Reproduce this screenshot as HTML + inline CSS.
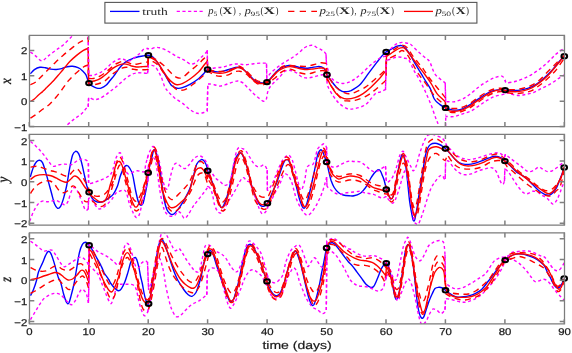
<!DOCTYPE html>
<html><head><meta charset="utf-8"><title>Ensemble quantiles</title>
<style>html,body{margin:0;padding:0;background:#fff;overflow:hidden}svg{display:block}</style>
</head><body>
<svg width="572" height="353" viewBox="0 0 572 353" text-rendering="geometricPrecision">
<defs><clipPath id="c0"><rect x="29.5" y="35.4" width="535.0" height="91.1"/></clipPath><clipPath id="c1"><rect x="29.5" y="134.3" width="535.0" height="90.79999999999998"/></clipPath><clipPath id="c2"><rect x="29.5" y="232.8" width="535.0" height="91.0"/></clipPath></defs>
<rect width="572" height="353" fill="#fff"/>
<g clip-path="url(#c0)" fill="none" stroke-width="1.4">
<path stroke="#0000ff" d="M30.4 73.8C31.1 73.1 32.8 70.8 34.4 69.7C36 68.6 38.1 67.6 39.9 67.3C41.7 67 43.5 67.4 45.3 67.7C47.1 68 49 68.8 50.8 69.1C52.6 69.4 54.4 69.6 56.2 69.5C58 69.4 59.9 69.1 61.7 68.6C63.5 68.1 65.3 67.1 67.1 66.7C68.9 66.3 70.7 66.1 72.5 66.3C74.3 66.5 76.4 67 78 67.7C79.6 68.4 80.8 69.2 82.1 70.4C83.4 71.7 84.9 73.1 86.1 75.2C87.2 77.3 87.9 81.3 89 83.1C90.1 84.9 91.2 85.4 92.5 86.2C93.8 87 95.4 87.8 96.8 88.1C98.2 88.4 99.5 88.6 101 88.1C102.5 87.6 104.5 86.6 106 85.3C107.5 84 108.7 82.2 110.1 80.5C111.5 78.8 113 77.1 114.3 75.4C115.6 73.7 116.6 71.9 117.7 70.3C118.8 68.7 119.9 67.3 121.1 66C122.3 64.7 123.5 63.6 124.8 62.6C126.1 61.6 127.4 60.9 128.9 60.2C130.4 59.5 132 58.8 133.6 58.2C135.2 57.6 136.7 57.2 138.4 56.8C140.1 56.4 142.1 56 143.8 55.8C145.5 55.5 146.9 55.1 148.4 55.3C149.9 55.5 151.4 55.8 152.9 57C154.4 58.2 156 60.6 157.5 62.7C159 64.8 160.5 67 162 69.5C163.5 72 164.9 74.7 166.5 77.4C168.1 80.1 169.9 83.7 171.6 85.5C173.3 87.3 175.1 87.8 176.9 88.2C178.7 88.6 180.1 88.4 182.3 87.7C184.6 87 187.7 85.7 190.4 84.2C193.1 82.7 196.2 80.6 198.5 78.8C200.8 77 202.4 75 203.9 73.4C205.4 71.9 206.1 69.9 207.6 69.5C209.1 69.1 211 70.8 212.8 71.2C214.6 71.6 216.5 72 218.4 71.9C220.3 71.9 222.2 71.4 224.1 70.9C226 70.4 227.9 69.7 229.8 69.1C231.7 68.5 233.8 67.7 235.4 67.4C237.1 67.1 238.3 67 239.7 67.4C241.1 67.8 242.5 68.7 243.9 69.8C245.3 70.9 246.8 72.6 248.2 74C249.6 75.4 251 77 252.4 78.3C253.8 79.6 255 80.8 256.7 81.6C258.4 82.4 260.7 82.9 262.4 83C264.1 83.1 265.4 83.1 267 82.1C268.6 81.1 270.1 78.7 271.9 76.8C273.7 74.9 275.7 72.2 277.6 70.5C279.5 68.8 281.4 67.7 283.3 66.9C285.2 66.1 287 65.6 288.9 65.5C290.8 65.4 292.7 65.9 294.6 66.2C296.5 66.5 298.4 67.2 300.3 67.6C302.2 67.9 304 68.3 305.9 68.3C307.8 68.3 309.7 67.9 311.6 67.6C313.5 67.3 315.7 66.7 317.3 66.6C318.9 66.5 320.2 66.4 321.5 66.9C322.8 67.4 324.2 68.5 325.1 69.8C326 71.1 326.1 73.1 327 74.8C327.9 76.5 329.3 78.2 330.8 80.2C332.3 82.2 334.4 85.1 336.2 86.9C338 88.7 340 90.4 341.6 91.2C343.2 92 344.4 91.8 346 91.7C347.6 91.6 348.6 91.8 351 90.6C353.4 89.3 357.5 87.1 360.4 84.2C363.3 81.3 365.8 77 368.5 73.4C371.2 69.8 374.4 65.5 376.6 62.6C378.9 59.7 380.4 57.7 382 55.9C383.6 54.1 384.5 53.1 386.2 51.9C387.9 50.7 390.3 49.7 392.1 48.7C393.9 47.8 395.6 46.7 397.2 46.2C398.8 45.7 400.1 45.3 401.5 45.6C402.9 45.9 404.1 46.5 405.7 48.2C407.2 49.9 409.1 53.2 410.8 56C412.5 58.8 414.2 62 415.9 64.9C417.6 67.8 419.3 70.6 421 73.4C422.7 76.2 424.5 79.3 426.1 81.9C427.7 84.5 429.1 86.2 430.5 89C431.9 91.8 432.8 96.4 434.3 99C435.8 101.6 437.8 102.9 439.7 104.4C441.6 105.9 443.6 107 445.6 107.9C447.6 108.8 449.5 109.5 451.9 109.8C454.3 110.1 457.3 110.5 460 109.8C462.7 109.1 465.4 107.4 468.1 105.8C470.8 104.2 473.5 102.2 476.2 100.4C478.9 98.6 481.6 96.6 484.3 95C487 93.4 489.7 91.8 492.4 90.9C495.1 90 498.4 89.7 500.5 89.6C502.6 89.5 503.1 90 505.1 90.1C507.1 90.2 509.7 90.4 512.3 90.4C514.8 90.4 517.7 90.5 520.4 90.1C523.1 89.7 525.8 89.2 528.5 88.2C531.2 87.2 533.9 86 536.6 84.2C539.3 82.4 542 80 544.7 77.5C547.4 75 550.3 72.1 552.8 69.4C555.3 66.7 557.6 63.5 559.5 61.3C561.4 59.1 563.5 57.1 564.3 56.2"/>
<path stroke="#ff00ff" stroke-dasharray="3 2.6" d="M30.4 52C31.3 52.7 33.9 54.6 35.8 56.1C37.7 57.6 39.9 60.9 41.9 60.9C43.9 60.9 45.6 57.9 48 56.1C50.4 54.3 53.5 52 56.2 50C58.9 48 61.7 46.3 64.4 43.9C67.1 41.5 70.6 37.9 72.5 35.7C74.4 33.6 73.4 31.8 76 31C78.6 30.2 86.2 31 88.2 31L88.6 75.5C89.4 75.5 92.2 75.6 93.5 75.4C94.8 75.2 95.4 74.5 96.5 74.1C97.6 73.7 98.8 73.4 99.9 72.8C101 72.2 102 71.6 103.3 70.7C104.6 69.8 106.2 68.4 107.5 67.3C108.8 66.2 109.6 65 110.9 63.9C112.2 62.8 113.6 61.8 115.2 60.9C116.8 60 118.9 59.1 120.3 58.8C121.7 58.5 122.3 58.9 123.4 59.2C124.5 59.5 125.7 60.6 127 60.8C128.3 61 129.4 61.1 131 60.3C132.6 59.5 134.7 57.5 136.3 56.2C137.9 55 139.1 54 140.4 52.8C141.7 51.6 142.8 49.8 143.9 49.1C145.1 48.4 146.7 48.6 147.3 48.5L148.4 48.8C148.8 48.8 149.6 49.3 150.7 49.1C151.8 48.9 153.7 47.7 155.2 47.5C156.7 47.3 158 47.4 159.7 47.8C161.4 48.2 163.5 48.9 165.4 49.8C167.3 50.7 169.2 51.9 171.1 53C173 54.1 175.2 55.6 176.8 56.5C178.5 57.4 179.6 57.8 181 58.5C182.4 59.2 183.4 59.6 185 60.5C186.6 61.4 188.6 63.6 190.4 64C192.2 64.3 194 63.7 195.8 62.6C197.6 61.5 199.4 59.1 201.2 57.3C203 55.5 205.6 53.1 206.6 51.9C207.6 50.7 207.1 50.3 207.2 50L207.6 68.4C208.2 68.4 209.7 68.5 211.3 68.4C212.9 68.3 215.1 67.9 217 67.7C218.9 67.5 220.8 67.4 222.7 67C224.6 66.6 226.4 66 228.3 65.5C230.2 65 232.1 64.3 234 64.1C235.9 63.9 237.8 64 239.7 64.1C241.6 64.2 243.4 64.8 245.3 64.8C247.2 64.8 249.1 64.3 251 64.1C252.9 63.9 254.8 63.6 256.7 63.4C258.6 63.2 260.9 63.1 262.4 63.1C263.9 63.1 265.2 63.2 265.9 63.2C266.6 63.2 266.4 63.4 266.5 63.4L266.8 78.3C267.4 77.5 268.9 75 270.5 73.3C272.1 71.6 274.3 69.8 276.2 68.3C278.1 66.8 279.9 65.4 281.8 64.1C283.7 62.8 285.6 61.7 287.5 60.5C289.4 59.3 291.3 58.3 293.2 57C295.1 55.7 296.9 54.3 298.8 52.8C300.7 51.3 302.8 49 304.5 47.8C306.2 46.6 307.4 46.1 308.8 45.7C310.2 45.3 311.6 45 313 45.4C314.4 45.8 315.9 47 317.3 47.8C318.7 48.5 320.3 49.2 321.5 49.9C322.7 50.6 323.6 51.3 324.4 52C325.1 52.7 325.7 53.8 326 54.2L326.5 64C326.8 65 327.2 67.5 328.1 70C329 72.5 330.3 76.6 332.1 78.8C333.9 81 336.4 82.2 338.9 82.9C341.4 83.6 344.2 83.6 346.9 82.9C349.6 82.2 352.3 80.6 355 78.8C357.7 77 360.4 74.5 363.1 72.1C365.8 69.7 368.5 66.8 371.2 64.5C373.9 62.2 376.9 59.9 379.3 58.5C381.7 57.1 384.7 56.4 385.8 56L386.3 55.5C387.3 54.2 390.3 49.5 392.1 47.5C393.9 45.5 395.6 44.5 397.2 43.6C398.8 42.8 400.3 42.5 402 42.4C403.7 42.3 405.8 42.9 407.3 43.2C408.8 43.6 409.5 43.5 410.8 44.5C412.1 45.5 413.7 47.4 415.4 49C417.1 50.6 419 52.4 420.8 54C422.6 55.6 424.7 57.2 426.2 58.5C427.7 59.8 428.4 59.4 429.8 61.9C431.2 64.4 432.8 70.6 434.6 73.5C436.4 76.4 438.8 77.8 440.4 79.2C442 80.6 443.4 81.5 444.2 82.1C445 82.7 445 82.8 445.2 83L445.7 101.7C446.1 101.7 446.4 101.7 447.9 101.7C449.4 101.7 452.1 102.2 454.6 101.7C457.1 101.2 460 100.3 462.7 99C465.4 97.7 468.1 95.6 470.8 93.6C473.5 91.6 476.2 88.9 478.9 86.9C481.6 84.9 484.3 83.1 487 81.5C489.7 79.9 492.6 78.4 495.1 77.5C497.6 76.6 500.3 75.9 501.8 76.1C503.3 76.3 503.8 78.1 504.3 78.8C504.8 79.5 504.9 79.8 505 80L505.5 81.5C505.7 81.7 505.3 82.9 506.9 82.9C508.5 82.9 512.3 82.2 515 81.5C517.7 80.8 520.4 79.9 523.1 78.8C525.8 77.7 528.5 76.4 531.2 74.8C533.9 73.2 536.6 71.4 539.3 69.4C542 67.4 544.7 65.1 547.4 62.6C550.1 60.1 553 56.8 555.5 54.6C558 52.5 560.7 50.7 562.2 49.7C563.7 48.7 563.9 48.7 564.3 48.5"/>
<path stroke="#ff00ff" stroke-dasharray="3 2.6" d="M63.5 128.5C63.9 128.1 64.4 127.5 65.7 126.3C67 125.1 69.4 123 71.2 121.5C73 120 74.8 118.8 76.6 117.4C78.4 116 80.5 114.8 82.1 113.3C83.7 111.8 85.1 109.6 86.1 108.6C87.1 107.5 87.8 107.3 88.2 107L88.6 97.6C88.8 97.6 88.8 97.3 89.7 97.6C90.6 97.9 92.5 99.3 93.9 99.5C95.3 99.7 96.6 99.6 98.2 99C99.8 98.4 101.9 97.3 103.8 96.1C105.7 94.9 107.6 93.3 109.5 91.9C111.4 90.5 113.3 89.1 115.2 87.6C117.1 86.1 118.9 84.3 120.8 82.7C122.7 81.1 124.6 79.1 126.5 77.7C128.4 76.3 130.3 75 132.2 74.2C134.1 73.4 135.9 73 137.8 72.8C139.7 72.6 141.9 72.9 143.5 73C145.1 73.1 146.9 73.4 147.6 73.5L148.4 64C148.8 64.2 149.4 64.5 150.6 65C151.8 65.5 153.7 65.2 155.4 67C157.1 68.8 159.2 72.8 160.8 76.1C162.4 79.4 163.5 84.2 164.8 86.9C166.2 89.6 167.3 90.5 168.9 92.3C170.5 94.1 172.1 95.9 174.3 97.7C176.5 99.5 179.6 101.1 182.3 103.1C185 105.1 187.9 108.1 190.4 109.8C192.9 111.5 194.9 112.8 197.2 113.3C199.4 113.8 202.2 112.9 203.9 112.5C205.6 112.1 206.6 111.3 207.2 111.1L207.8 84C208.2 84 208.8 83.9 209.9 84C211 84.1 212.5 84.4 214.2 84.7C215.8 85 217.9 86.1 219.8 86.1C221.7 86.1 223.6 85.3 225.5 84.7C227.4 84.1 229.3 83.2 231.2 82.6C233.1 82 235.4 81.3 236.8 81.1C238.2 80.9 238.5 81.1 239.5 81.4C240.5 81.7 241.7 82 242.9 82.9C244.1 83.8 245.6 85.6 246.9 86.9C248.2 88.2 249.5 89.5 250.8 90.8C252.1 92.1 253.3 93.5 254.8 94.8C256.3 96.1 258.3 97.7 259.8 98.8C261.3 99.9 262.6 101.2 263.7 101.3C264.8 101.4 265.6 100.7 266.2 99.5C266.8 98.3 267 94.9 267.2 94L267.2 94C267.4 93.2 267.9 90.8 268.7 89.3C269.4 87.8 270.5 86.3 271.7 84.9C272.9 83.5 274.3 82.2 275.6 80.9C276.9 79.6 278.1 78.8 279.6 77.2C281.1 75.6 282.9 72.6 284.7 71.5C286.5 70.4 288.4 70.3 290.3 70.5C292.2 70.7 294.1 71.5 296 72.6C297.9 73.6 299.8 75.9 301.7 76.8C303.6 77.7 305.4 78 307.3 78C309.2 78 311.1 77.5 313 77.1C314.9 76.7 317.1 75.8 318.7 75.4C320.3 75 321.6 74.7 322.9 74.7C324.2 74.7 325.9 75.4 326.5 75.5L326.8 80C327 81.2 327 84.2 328.1 86.9C329.2 89.6 331.7 93.6 333.5 96.3C335.3 99 336.7 101.1 338.9 103.1C341.1 105.1 344.2 107.6 346.9 108.5C349.6 109.4 351.9 109.2 355 108.5C358.1 107.8 362.5 106.8 365.8 104.4C369.1 102 372.6 96.1 375 94C377.4 91.9 378.4 92.8 380.2 92C381.9 91.2 384.6 89.9 385.5 89.5L386.3 59.8C386.7 59.8 387.4 60.1 388.7 59.8C389.9 59.5 392.1 58.3 393.8 57.8C395.5 57.3 397.2 57 398.9 57C400.6 57 402.4 57.5 404 58C405.6 58.5 407.1 58.1 408.7 60C410.3 61.9 411.8 66.4 413.5 69.6C415.2 72.8 417.3 75.7 419.2 79.2C421.1 82.7 423.1 86.6 425 90.8C426.9 95 429 99.7 430.8 104.2C432.6 108.7 434.3 114.2 435.6 117.7C436.9 121.2 437.7 122.5 438.5 125.4C439.3 128.3 440.2 133.4 440.5 135L445.6 135C445.6 131.9 445.6 119.6 445.8 116.5C446 113.4 445.1 116.5 446.6 116.5C448.1 116.5 451.9 117 454.6 116.5C457.3 116 460 114.7 462.7 113.8C465.4 112.9 468.1 112.4 470.8 111.1C473.5 109.8 476.2 107.6 478.9 105.8C481.6 104 484.3 102 487 100.4C489.7 98.8 492.4 97.3 495.1 96.3C497.8 95.3 501.4 95 503.1 94.4C504.8 93.9 504.8 93.2 505.1 93L505.5 92.3C506.2 92.5 507.6 93.1 509.6 93.6C511.6 94.1 515 95.4 517.7 95.5C520.4 95.6 523.1 94.9 525.8 94.4C528.5 93.9 531.2 93.3 533.9 92.3C536.6 91.3 539.3 89.5 542 88.2C544.7 86.9 547.4 85.8 550.1 84.2C552.8 82.6 556.1 80.2 558.1 78.8C560.1 77.4 561.2 76.7 562.2 76.1C563.2 75.5 563.9 75.2 564.3 75"/>
<path stroke="#ff0000" stroke-dasharray="6 4.5" d="M30.4 84.8C31.3 84.3 34.2 83.2 35.8 82C37.4 80.8 38.1 79.7 39.9 77.9C41.7 76.1 44.2 73.6 46.7 71.1C49.2 68.6 52.2 65.5 54.9 62.9C57.6 60.3 60.3 57.8 63 55.4C65.7 53 68.5 50.8 71.2 48.6C73.9 46.5 76.8 44.1 79.3 42.5C81.8 40.9 84.6 39.9 86.1 39.1C87.6 38.4 87.8 38.2 88.2 38L88.6 78.5C89.2 78.5 90.8 78.7 92 78.6C93.2 78.5 94.8 78.3 96.1 77.9C97.4 77.5 98.4 77.1 99.9 76.2C101.4 75.3 103.5 73.9 105 72.8C106.5 71.7 107.8 70.6 109.2 69.4C110.6 68.2 112.2 66.6 113.5 65.6C114.8 64.6 115.5 64.2 116.9 63.5C118.3 62.8 120.6 61.7 122 61.4C123.4 61.1 124.4 61.6 125.4 61.8C126.4 62 126.8 62.1 128 62.5C129.2 62.9 131.3 64 132.9 64.3C134.5 64.5 135.6 64.3 137.7 64C139.8 63.7 143.5 62.6 145.2 62.3C146.9 62 147.4 62 147.8 62L148.4 56C148.7 56.1 148.6 55.8 150 56.5C151.4 57.2 154.4 58.5 156.7 60C158.9 61.5 161 63.1 163.5 65.3C166 67.5 169.4 71.4 171.6 73.4C173.8 75.4 175.1 76.8 176.9 77.5C178.7 78.2 180.1 78.6 182.3 77.5C184.6 76.4 187.7 73 190.4 70.7C193.1 68.5 196.2 66 198.5 64C200.8 62 202.5 59.7 203.9 58.6C205.3 57.5 206.6 57.5 207.2 57.3L207.8 69.5C209 69.8 212.8 70.7 215 71C217.2 71.3 218.8 71.6 221 71.5C223.2 71.4 225.8 71 228 70.5C230.2 70 232.3 69.2 234 68.5C235.7 67.8 236.7 66.2 238 66C239.3 65.8 240.7 66.8 242 67.5C243.3 68.2 244.5 69.2 246 70.5C247.5 71.8 249.3 73.9 251 75.5C252.7 77.1 254.1 78.9 256 80C257.9 81.1 260.6 82 262.4 82.3C264.2 82.6 266.1 81.9 266.8 81.8L267.5 81.5C268.5 80.5 270.9 77.8 273.3 75.4C275.7 73 279 68.6 281.8 66.9C284.6 65.2 287.5 65.6 290.3 65.5C293.1 65.4 296 66.1 298.8 66.2C301.6 66.3 304.5 66.6 307.3 66.2C310.1 65.8 313.4 64.7 315.8 64.1C318.2 63.5 319.7 62.8 321.5 62.7C323.3 62.6 325.7 63.3 326.5 63.4L326.8 74C327 74.3 327 74.4 328.1 76.1C329.2 77.8 331.7 82 333.5 84.2C335.3 86.5 336.7 88 338.9 89.6C341.1 91.2 344.2 93.1 346.9 93.6C349.6 94 351.9 93.4 355 92.3C358.1 91.2 362.7 88.9 365.8 86.9C368.9 84.9 370.8 82.9 373.9 80.2C377 77.5 382.7 72.5 384.7 70.7C386.7 68.9 385.8 69.7 386 69.5L386.5 54.5C386.8 54.3 386.8 54.3 388.5 53.2C390.2 52.1 394.4 49.1 396.6 47.8C398.8 46.4 400.1 45.1 401.9 45.1C403.7 45.1 405.5 46 407.3 47.8C409.1 49.6 410.9 53.4 412.7 55.9C414.5 58.4 416.3 60.4 418.1 62.6C419.9 64.9 421.7 66.9 423.5 69.4C425.3 71.9 426.6 74.5 428.9 77.5C431.1 80.5 434.5 84.5 437 87.5C439.5 90.5 442.3 93.9 443.7 95.6C445.1 97.3 444.9 97.2 445.2 97.5L445.8 107.5C446.8 107.7 449.5 108.4 451.9 108.5C454.3 108.6 457.3 108.7 460 108C462.7 107.3 465.4 106 468.1 104.5C470.8 103 473.5 100.8 476.2 99C478.9 97.2 481.6 95.1 484.3 93.5C487 91.9 489.7 90.4 492.4 89.5C495.1 88.6 498.4 88.3 500.5 88.2C502.6 88.1 504.3 88.9 505.1 89L505.5 89C505.8 89.1 505.4 89.4 507 89.5C508.6 89.6 512.3 89.8 515 89.6C517.7 89.4 520.4 88.9 523.1 88.2C525.8 87.5 528.5 86.8 531.2 85.5C533.9 84.2 536.6 82.4 539.3 80.2C542 78 544.7 74.8 547.4 72.1C550.1 69.4 553 66.5 555.5 64C558 61.5 560.7 58.7 562.2 57.3C563.7 55.9 563.9 55.8 564.3 55.5"/>
<path stroke="#ff0000" stroke-dasharray="6 4.5" d="M30.4 118.1C31.3 117.5 33.8 116.2 35.8 114.7C37.8 113.2 40.3 111 42.6 109.3C44.9 107.6 47.1 106.5 49.4 104.5C51.7 102.5 53.9 99.7 56.2 97C58.5 94.3 61 90.9 63 88.2C65 85.5 66.5 83 68.5 80.6C70.5 78.2 72.8 76.1 75.3 73.8C77.8 71.5 81.2 68.5 83.4 67C85.6 65.5 87.4 65.3 88.2 65L88.6 84C89.7 84.1 93 84.7 95 84.5C97 84.3 99 83.6 100.7 83C102.4 82.4 103.4 82 105 80.9C106.6 79.8 108.7 77.5 110.1 76.2C111.5 74.9 112.2 74.2 113.5 73.3C114.8 72.4 116.3 71.5 117.7 70.7C119.1 69.9 120.6 68.8 122 68.2C123.4 67.6 124.9 67.2 126.2 67.2C127.5 67.2 128.7 68.1 130 68.5C131.3 68.9 133 69.2 134.3 69.4C135.6 69.6 135.9 69.7 137.7 69.7C139.5 69.8 143.5 69.8 145.2 69.7C146.9 69.7 147.4 69.5 147.8 69.4L148.4 59C149 59.3 150.4 60 152 61C153.6 62 156 63 158.1 65.3C160.2 67.6 162.6 71.6 164.8 74.8C167.1 78 169.6 81.7 171.6 84.2C173.6 86.7 174.7 88.7 176.9 89.6C179.1 90.5 182.3 90.5 185 89.6C187.7 88.7 190.4 86.2 193.1 84.2C195.8 82.2 198.8 79.5 201.2 77.5C203.5 75.5 206.2 73 207.2 72.1L208 71.5C209.3 72.2 213.4 74.7 215.6 75.5C217.8 76.3 219.2 76.3 221.3 76.2C223.4 76.1 226.2 75.5 228.3 74.8C230.4 74.1 232.1 72.5 234 71.9C235.9 71.3 237.8 71 239.7 71.2C241.6 71.4 243.4 72.1 245.3 73.3C247.2 74.5 249.1 76.6 251 78.3C252.9 80 254.8 82.2 256.7 83.3C258.6 84.4 260.7 84.6 262.4 84.7C264.1 84.8 266.1 84.1 266.8 84L267.7 83.5C268.9 82.6 272.4 80.2 274.8 78.3C277.2 76.4 279.2 73.4 281.8 71.9C284.4 70.4 287.5 69 290.3 69.1C293.1 69.2 296 71.8 298.8 72.6C301.6 73.4 304.5 74.1 307.3 74C310.1 73.9 313.2 72.5 315.8 71.9C318.4 71.3 321.1 70.5 322.9 70.5C324.7 70.5 325.9 71.8 326.5 72L326.8 79C327 79.4 326.8 79.5 328.1 81.5C329.4 83.5 332.6 88 334.8 90.9C337.1 93.8 339.6 97.3 341.6 99C343.6 100.7 344.7 100.7 346.9 100.9C349.1 101.1 351.9 101.2 355 100.4C358.1 99.6 362.7 97.9 365.8 96.3C368.9 94.7 370.8 93.4 373.9 90.9C377 88.4 382.7 83.3 384.7 81.5C386.7 79.7 385.8 80.2 386 80L386.5 59C386.8 58.9 386.8 59.3 388.5 58.6C390.2 57.9 394.4 56 396.6 54.6C398.8 53.2 400.1 50.5 401.9 50.5C403.7 50.5 405.5 52.4 407.3 54.6C409.1 56.9 410.9 60.9 412.7 64C414.5 67.1 415.9 70 418.1 73.4C420.4 76.8 423.5 80.5 426.2 84.2C428.9 87.9 431.4 92.3 434.3 95.6C437.2 98.9 441.9 102.5 443.7 104.1C445.5 105.7 444.9 104.8 445.2 105L445.8 111C446.8 111.2 449.5 112.3 451.9 112.5C454.3 112.7 457.3 112.6 460 112C462.7 111.4 465.4 110.2 468.1 108.8C470.8 107.4 473.5 105.3 476.2 103.5C478.9 101.7 481.6 99.7 484.3 98C487 96.3 489.7 94.6 492.4 93.5C495.1 92.4 498.4 91.8 500.5 91.5C502.6 91.2 504.3 91.9 505.1 92L505.5 92C505.8 92.1 505.4 92.2 507 92.5C508.6 92.8 512.3 93.5 515 93.6C517.7 93.6 520.4 93.2 523.1 92.8C525.8 92.3 528.5 92.1 531.2 90.9C533.9 89.7 536.6 87.5 539.3 85.5C542 83.5 544.7 81.3 547.4 78.8C550.1 76.3 553 73.6 555.5 70.7C558 67.8 560.7 63.3 562.2 61.3C563.7 59.3 563.9 59 564.3 58.5"/>
<path stroke="#ff0000" d="M30.4 101.5C31.1 101.1 33 100.1 34.4 99C35.8 97.9 37.1 96.2 38.5 95C39.9 93.8 41.2 92.8 42.6 91.6C44 90.3 45.3 88.9 46.7 87.5C48.1 86.1 49.5 84.7 50.8 83.4C52 82.2 53 81.3 54.2 80C55.4 78.7 56.5 77.2 58 75.5C59.5 73.8 61 72 63 69.7C65 67.4 67.5 64 69.8 61.6C72.1 59.2 74.3 57.3 76.6 55.4C78.9 53.5 81.5 51.6 83.4 50.4C85.3 49.2 87.4 48.6 88.2 48.3L88.6 82C89.5 81.8 92.3 81.4 93.9 81C95.5 80.6 96.8 80.4 98.2 79.7C99.6 79 101 78.1 102.4 77.1C103.8 76.1 105.3 74.9 106.7 73.7C108.1 72.5 109.5 71 110.9 69.9C112.3 68.8 113.8 67.8 115.2 66.9C116.6 66.1 118 65.3 119.4 64.8C120.8 64.3 122.2 63.9 123.7 63.9C125.2 63.9 126.9 64.2 128.2 64.6C129.5 64.9 130.5 65.7 131.6 66C132.7 66.3 133.9 66.5 135 66.7C136.1 66.9 137.3 67 138.4 67C139.5 67 140.2 66.8 141.8 66.7C143.4 66.6 146.8 66.4 147.8 66.3L148.4 57.5C148.7 57.5 148.6 56.7 150 57.3C151.4 57.9 154.7 59.3 156.7 61.3C158.7 63.3 160.3 66.7 162.1 69.4C163.9 72.1 165.7 75.2 167.5 77.5C169.3 79.8 171.3 81.7 172.9 82.9C174.5 84.1 175.3 84.6 176.9 84.7C178.5 84.8 180.1 84.7 182.3 83.7C184.6 82.7 187.7 80.7 190.4 78.8C193.1 76.9 196.2 74.3 198.5 72.1C200.8 69.8 202.5 67.1 203.9 65.3C205.3 63.5 206.6 62 207.2 61.3L207.8 70.5C208.9 70.8 212.2 72.1 214.2 72.6C216.2 73.1 217.9 73.3 219.8 73.3C221.7 73.3 223.6 73.1 225.5 72.6C227.4 72.1 229.3 71.3 231.2 70.5C233.1 69.7 235.2 68 236.8 67.7C238.5 67.4 239.7 67.8 241.1 68.4C242.5 69 243.9 69.9 245.3 71.2C246.7 72.5 248.2 74.7 249.6 76.2C251 77.7 252.4 79.3 253.8 80.4C255.2 81.5 256.7 82.5 258.1 83C259.5 83.5 260.9 83.6 262.4 83.5C263.8 83.4 266.1 82.8 266.8 82.6L267.7 82.5C268.6 81.4 271.4 78.1 273.3 76.1C275.2 74.1 277.1 71.9 279 70.5C280.9 69.1 282.8 68.2 284.7 67.6C286.6 66.9 288.4 66.6 290.3 66.6C292.2 66.6 294.1 67.2 296 67.6C297.9 68 299.8 68.7 301.7 69C303.6 69.3 305.4 69.5 307.3 69.5C309.2 69.5 311.1 69.2 313 69C314.9 68.8 316.8 68.2 318.7 68.1C320.6 68 323.1 67.8 324.4 68.3C325.7 68.8 326.1 70.7 326.5 71.2L326.8 77.5C327.5 78.8 329.2 82.8 330.8 85.5C332.4 88.2 334.4 91.6 336.2 93.6C338 95.6 339.8 96.8 341.6 97.7C343.4 98.6 344.7 99 346.9 99C349.1 99 352.3 98.6 355 97.7C357.7 96.8 360.4 95.4 363.1 93.6C365.8 91.8 368.5 89.4 371.2 86.9C373.9 84.4 377.1 81.2 379.3 78.8C381.5 76.4 383.3 73.7 384.4 72.5C385.5 71.3 385.7 71.7 386 71.5L386.5 56.4C387.1 56 388.9 54.8 390.4 53.8C391.9 52.8 393.8 51.4 395.5 50.4C397.2 49.4 399.2 48.3 400.6 47.9C402 47.5 402.9 47.3 404 47.9C405.1 48.5 406 49.6 407.4 51.3C408.8 53 410.8 55.8 412.5 58.1C414.2 60.4 415.9 62.6 417.6 64.9C419.3 67.2 421 69.4 422.7 71.7C424.4 74 426.2 76.3 427.8 78.5C429.4 80.7 430.5 82.5 432 85C433.5 87.5 435.3 91.3 437 93.6C438.7 95.9 441 97.7 442.4 99C443.8 100.3 444.7 101.2 445.2 101.7L445.8 109.5C446.8 109.8 449.5 111 451.9 111.2C454.3 111.4 457.3 111.3 460 110.6C462.7 109.9 465.4 108.6 468.1 107.1C470.8 105.6 473.5 103.5 476.2 101.7C478.9 99.9 481.6 98 484.3 96.3C487 94.6 489.7 92.8 492.4 91.7C495.1 90.6 498.4 89.8 500.5 89.6C502.6 89.4 504 90.2 505.1 90.4C506.2 90.6 505.4 90.8 507 91C508.6 91.2 512.3 91.7 515 91.7C517.7 91.7 520.4 91.5 523.1 90.9C525.8 90.3 528.5 89.5 531.2 88.2C533.9 86.9 536.6 84.9 539.3 82.9C542 80.9 544.7 78.8 547.4 76.1C550.1 73.4 553 69.6 555.5 66.7C558 63.8 560.7 60.3 562.2 58.6C563.7 56.9 563.9 56.9 564.3 56.5"/>
<path stroke="#ff00ff" stroke-dasharray="3 2.6" d="M88.2 31L88.6 75.5M147.3 48.5L148.4 48.8M207.2 50L207.6 68.4M266.5 63.4L266.8 78.3M326 54.2L326.5 64M385.8 56L386.3 55.5M445.2 83L445.7 101.7M505 80L505.5 81.5"/>
<path stroke="#ff00ff" stroke-dasharray="3 2.6" d="M88.2 107L88.6 97.6M147.6 73.5L148.4 64M207.2 111.1L207.8 84M267.2 94L267.2 94M326.5 75.5L326.8 80M385.5 89.5L386.3 59.8M505.1 93L505.5 92.3"/>
</g>
<g fill="none" stroke="#000" stroke-width="2"><ellipse cx="89" cy="83.1" rx="2.85" ry="2.2"/><ellipse cx="148.4" cy="55.3" rx="2.85" ry="2.2"/><ellipse cx="207.6" cy="69.5" rx="2.85" ry="2.2"/><ellipse cx="267" cy="82.1" rx="2.85" ry="2.2"/><ellipse cx="326.9" cy="74.8" rx="2.85" ry="2.2"/><ellipse cx="386.2" cy="51.9" rx="2.85" ry="2.2"/><ellipse cx="445.6" cy="107.9" rx="2.85" ry="2.2"/><ellipse cx="505.1" cy="90.1" rx="2.85" ry="2.2"/><ellipse cx="564.3" cy="56.2" rx="2.85" ry="2.2"/></g>
<path fill="none" stroke="#7c7c7c" stroke-width="1.25" d="M29.5 35.4H564.5V126.5H29.5Z"/>
<path fill="none" stroke="#808080" stroke-width="1.5" d="M29.3 126.5v-4.6M29.3 35.4v4.6M88.7 126.5v-4.6M88.7 35.4v4.6M148.2 126.5v-4.6M148.2 35.4v4.6M207.6 126.5v-4.6M207.6 35.4v4.6M267.1 126.5v-4.6M267.1 35.4v4.6M326.5 126.5v-4.6M326.5 35.4v4.6M386 126.5v-4.6M386 35.4v4.6M445.4 126.5v-4.6M445.4 35.4v4.6M504.9 126.5v-4.6M504.9 35.4v4.6M564.3 126.5v-4.6M564.3 35.4v4.6M29.5 50.4h4.8M564.5 50.4h-4.8M29.5 75.8h4.8M564.5 75.8h-4.8M29.5 101.2h4.8M564.5 101.2h-4.8M29.5 126.5h4.8M564.5 126.5h-4.8"/>
<g font-family="Liberation Sans, Arial, sans-serif" font-size="9.8" fill="#1a1a1a" stroke="#1a1a1a" stroke-width="0.25" text-anchor="end"><text transform="translate(27.3 54.4) scale(1.16 1)">2</text><text transform="translate(27.3 79.8) scale(1.16 1)">1</text><text transform="translate(27.3 105.2) scale(1.16 1)">0</text><text transform="translate(27.3 130.5) scale(1.16 1)">−1</text></g>
<text transform="translate(11 81) scale(1.2 1) rotate(-90)" font-family="Liberation Serif, serif" font-style="italic" font-size="13" fill="#1a1a1a" stroke="#1a1a1a" stroke-width="0.3" text-anchor="middle">x</text>
<g clip-path="url(#c1)" fill="none" stroke-width="1.4">
<path stroke="#0000ff" d="M30.3 177C30.8 175.3 32.5 169.6 33.5 167.1C34.5 164.6 35.5 162.9 36.5 161.8C37.5 160.7 38.5 160.2 39.5 160.3C40.5 160.4 41.5 160.7 42.5 162.6C43.5 164.5 44.5 168.3 45.5 171.6C46.5 174.8 47.5 178.4 48.5 182.1C49.5 185.8 50.6 189.8 51.6 193.5C52.6 197.2 53.6 201.6 54.6 204.1C55.6 206.6 56.6 207.9 57.6 208.3C58.6 208.7 59.6 208 60.6 206.3C61.6 204.6 62.6 201.5 63.6 198.1C64.6 194.7 65.6 190.9 66.6 186C67.6 181.1 68.6 173.8 69.6 168.6C70.6 163.4 71.6 158 72.6 155.1C73.6 152.2 74.6 151.6 75.6 151.3C76.6 151.1 77.6 151.7 78.6 153.6C79.6 155.5 80.6 158.9 81.6 162.6C82.6 166.3 83.7 172.1 84.6 176C85.5 179.9 86.2 183.3 86.9 186C87.7 188.7 88.2 190.3 89.1 192.3C90 194.3 91.1 196.6 92.1 198.1C93.1 199.6 93.9 200.4 95.2 201.1C96.5 201.8 98.2 202.3 99.7 202.3C101.2 202.3 102.7 201.8 104.2 201.1C105.7 200.4 107.2 199.2 108.7 198.1C110.2 197 111.7 196.3 113.2 194.3C114.7 192.3 116.4 188.9 117.5 186C118.6 183.1 119.2 179.4 120 177C120.8 174.6 121.2 173.4 122 171.6C122.8 169.8 124.1 167.3 125 166.3C125.9 165.3 126.5 165.3 127.3 165.6C128.1 165.8 128.6 166.3 129.5 167.8C130.4 169.3 131.6 170.8 132.6 174.6C133.6 178.4 134.6 185.8 135.6 190.5C136.6 195.2 137.7 200.1 138.6 202.6C139.5 205.1 140.1 205.2 140.8 205.3C141.6 205.4 142.3 205.3 143.1 203.3C143.8 201.3 144.6 196.9 145.3 193.5C146 190.1 146.8 186.4 147.3 183C147.8 179.6 147.9 175.8 148.3 172.8C148.7 169.8 149.2 167.7 149.8 165C150.4 162.3 151.5 159 152.1 156.6C152.7 154.2 153.1 151.5 153.6 150.5C154.1 149.5 154.5 149.5 155.1 150.5C155.7 151.5 156.7 153.8 157.4 156.6C158.2 159.4 158.9 163.2 159.6 167.1C160.2 171 160.6 174.6 161.3 180C162.1 185.4 163.1 194.5 164.1 199.5C165.1 204.5 166.1 207.7 167.1 210.1C168.1 212.5 169.1 213.1 170.1 213.8C171.1 214.5 172.1 214.7 173.1 214.3C174.1 213.9 174.9 213.1 176.2 211.6C177.5 210.1 179.2 207.8 180.7 205.6C182.2 203.3 183.7 200.9 185.2 198.1C186.7 195.3 188.4 192.3 189.7 189C191 185.7 191.8 182.2 193 178C194.2 173.8 195.4 167.1 196.8 164C198.2 160.9 200.1 160.1 201.3 159.6C202.6 159.1 203.4 160.1 204.3 161.1C205.2 162.1 205.9 164 206.5 165.6C207.1 167.2 207.2 169.1 207.7 170.8C208.2 172.5 208.7 174 209.5 176C210.3 178 211.6 180.1 212.6 183C213.6 185.9 214.6 190.2 215.6 193.5C216.6 196.8 217.7 200.3 218.6 202.6C219.5 204.9 220.1 206.5 220.8 207.1C221.6 207.7 222.2 207.6 223.1 206.3C224 205.1 225.1 202.5 226.1 199.6C227.1 196.7 228.1 193.3 229.1 189C230.1 184.7 231.3 178.2 232.1 174C232.9 169.8 233.3 166.8 234 164C234.7 161.2 235.3 159.1 236 157.5C236.7 155.9 237.4 155.1 238.1 154.3C238.8 153.5 239.7 152.7 240.4 152.8C241.2 152.9 241.7 153.5 242.6 155.1C243.5 156.7 244.6 159.6 245.6 162.6C246.6 165.6 247.8 169.9 248.6 173.1C249.4 176.2 249.8 178.6 250.5 181.5C251.2 184.4 252.2 187.7 253.1 190.5C254 193.3 255.2 195.8 256.2 198.1C257.2 200.4 258.2 202.7 259.2 204.1C260.2 205.5 261.2 206.1 262.2 206.3C263.2 206.6 264.3 206.1 265.2 205.6C266.1 205.1 266.6 204.6 267.4 203.3C268.2 202 269.1 200.1 270 198C270.9 195.9 271.8 193.7 273 191C274.2 188.3 275.6 185.7 277 182C278.4 178.3 280.2 172.1 281.5 168.6C282.8 165.1 283.6 162.6 284.5 161.1C285.4 159.6 286.1 159.6 286.8 159.6C287.6 159.6 288.1 159.3 289 161.1C289.9 162.8 291.1 166.6 292.1 170.1C293.1 173.6 294.3 178.5 295.2 182C296.1 185.5 296.8 188.1 297.5 191C298.2 193.9 298.8 196.9 299.6 199.6C300.5 202.3 301.7 205.6 302.6 207C303.5 208.4 304.1 208.5 304.8 207.8C305.6 207.1 306.2 205.5 307.1 202.6C308 199.7 309.2 194.3 310.1 190.5C311 186.7 311.6 183.4 312.4 180C313.1 176.6 313.7 174.2 314.6 170.1C315.5 165.9 316.6 158.5 317.6 155.1C318.6 151.7 319.7 150.3 320.6 149.8C321.5 149.3 322.1 150.6 322.9 152C323.6 153.4 324.5 156.4 325.1 158.1C325.7 159.8 326 160.1 326.6 162.1C327.2 164.1 327.8 166.9 328.5 170C329.2 173.1 330.2 177.6 331.1 180.5C332.1 183.4 332.9 185.4 334.2 187.5C335.5 189.6 337.2 191.6 338.7 192.8C340.2 194.1 341.4 194.5 343.2 195C344.9 195.5 347.4 195.7 349.2 195.8C351 195.9 352.2 196.2 354 195.8C355.8 195.4 358.2 194.6 360 193.5C361.8 192.4 363.2 190.5 364.5 189C365.8 187.5 366.5 186.2 367.5 184.5C368.5 182.8 369.6 180.2 370.6 178.5C371.6 176.8 372.7 175.2 373.6 174C374.5 172.8 375.1 172.3 375.8 171.6C376.6 170.9 377.4 169.9 378.1 169.8C378.9 169.7 379.6 169.8 380.3 170.8C381.1 171.9 382 174.6 382.6 176.1C383.2 177.6 383.6 178.3 384.1 180C384.6 181.7 385.2 184.4 385.6 186C386 187.6 386 188.3 386.3 189.5C386.6 190.7 387 191.8 387.5 193C388 194.2 388.7 195.6 389.3 196.6C389.9 197.6 390.3 199 390.9 199C391.5 199 392.4 198.8 393.1 196.6C393.9 194.4 394.8 189.3 395.4 186C396 182.7 396.3 180.4 396.9 177C397.5 173.6 398.4 169.1 399.1 165.6C399.9 162.1 400.8 157.6 401.4 155.8C402 154.1 402.4 154.7 402.9 155.1C403.4 155.5 403.9 156.1 404.4 158.1C404.9 160.1 405.4 163.4 405.9 167.1C406.4 170.8 406.8 174.3 407.4 180C408 185.7 408.9 195.3 409.6 201.1C410.4 206.9 411.3 211.3 411.9 214.6C412.5 217.8 412.9 219.8 413.4 220.6C413.9 221.3 414.3 221.3 414.9 219.1C415.5 216.8 416.4 211.6 417.2 207.1C417.9 202.6 418.6 196.8 419.4 192C420.1 187.2 421 182.7 421.7 178.5C422.4 174.3 422.9 170.8 423.5 167C424.1 163.2 424.6 159.1 425.3 156C426 152.9 426.6 150.4 427.5 148.5C428.4 146.6 429.2 145.4 430.5 144.5C431.8 143.6 433.5 143.3 435 143.3C436.5 143.3 438.1 143.9 439.5 144.5C440.9 145.1 442.3 146.1 443.3 146.8C444.3 147.5 444.4 147.5 445.5 148.6C446.6 149.7 448.6 151.9 450.1 153.6C451.6 155.3 453.1 157.3 454.6 158.8C456.1 160.3 457.4 161.7 459.1 162.6C460.9 163.5 463.1 164.2 465.1 164.4C467.1 164.7 469.1 164.4 471.1 164.1C473.1 163.8 475.1 163.2 477.1 162.6C479.1 162 481.1 161.1 483.1 160.3C485.1 159.5 487.2 158.5 489.2 157.8C491.2 157.1 493.2 156.3 495.2 156.3C497.2 156.3 499.6 157 501.2 157.8C502.8 158.6 503.4 159.8 504.9 161.1C506.4 162.4 508.2 163.8 510.1 165.6C512 167.3 514.4 170.1 516.1 171.6C517.9 173.1 518.9 173.3 520.6 174.5C522.4 175.7 524.6 176.8 526.6 178.5C528.6 180.2 530.6 182.5 532.6 184.5C534.6 186.5 536.6 188.9 538.6 190.5C540.6 192.1 542.9 193.5 544.6 194.3C546.4 195.1 547.7 195.3 549.1 195.1C550.5 194.8 551.6 194.1 552.9 192.8C554.2 191.5 555.6 189.6 556.7 187.5C557.8 185.4 558.8 182.2 559.7 180C560.6 177.8 561.2 176.1 562 174C562.8 171.9 563.8 168.5 564.2 167.4"/>
<path stroke="#ff00ff" stroke-dasharray="3 2.6" d="M30.5 141.5C31.2 142.1 33.5 143.9 35 145.3C36.5 146.7 38 148.2 39.5 149.8C41 151.4 42.5 153.2 44 155.1C45.5 157 47 159.2 48.5 161.1C50 163 51.3 165.7 53.1 166.3C54.9 166.9 57.1 165.2 59.1 164.8C61.1 164.4 63.1 164.1 65.1 164.1C67.1 164.1 69.3 165.2 71.1 164.8C72.8 164.4 74.1 162.7 75.6 161.8C77.1 160.9 78.6 159.7 80.1 159.3C81.6 158.9 83.3 159.3 84.6 159.6C85.8 159.9 87 160.5 87.6 161.1C88.2 161.7 88.3 162.9 88.4 163.3L88.6 184C89.7 183.7 93.1 182.8 95.2 182.1C97.3 181.4 99.2 180.8 101.2 179.9C103.2 179.1 105.7 177.9 107.2 177C108.8 176.1 109.5 175.8 110.5 174.5C111.5 173.2 112.1 171.8 113 169C113.9 166.2 114.9 160.7 116 158C117.1 155.3 118.8 153 119.8 152.8C120.8 152.6 121.1 154 122 156.6C122.9 159.2 124 165.7 125 168.6C126 171.5 126.7 173.2 128 173.8C129.3 174.4 131.1 172.8 132.6 172.3C134.1 171.8 135.6 170.9 137.1 170.8C138.6 170.7 140.4 171.5 141.6 171.6C142.8 171.7 143.7 172.6 144.4 171.3C145.1 170 145.3 166.1 145.8 164C146.3 161.9 147.1 159.4 147.3 158.5L148.6 154C148.9 153.3 149.8 151.2 150.5 150C151.2 148.8 152.1 146.7 152.9 146.5C153.7 146.3 154.6 147.3 155.5 149C156.4 150.7 157.2 153.1 158.1 156.6C159 160.1 160.3 166 161.1 170.1C161.9 174.2 162.2 177.8 163 181C163.8 184.2 165.1 188.2 166 189C166.9 189.8 167.8 187.8 168.5 186C169.2 184.2 169.3 181.2 170.1 178C170.9 174.8 172.1 169.5 173.1 167.1C174.1 164.7 174.9 163.4 176.2 163.3C177.5 163.2 179.2 165.4 180.7 166.3C182.2 167.2 183.7 169 185.2 168.6C186.7 168.2 188.1 165.8 189.7 164C191.2 162.2 192.9 159.5 194.5 158.1C196.1 156.7 197.6 155.9 199 155.8C200.4 155.7 201.8 156.6 202.8 157.3C203.8 158.1 204.3 159.4 205 160.3C205.7 161.2 206.7 162.6 207 163L208.5 168.6C209.2 169.5 211.3 172.3 212.6 174C213.8 175.7 214.8 177.2 216 178.5C217.2 179.8 218.7 180.4 220.1 181.5C221.5 182.6 223.1 185.1 224.6 185.3C226.1 185.6 227.9 184.6 229.1 183C230.2 181.4 230.8 179 231.5 176C232.2 173 232.8 168.5 233.5 165C234.2 161.5 234.7 157.8 235.5 155C236.3 152.2 237 149.4 238.1 148.3C239.2 147.2 240.7 147.9 241.9 148.3C243.2 148.7 244.3 149.1 245.6 150.5C246.8 151.9 248.2 154.6 249.4 156.6C250.7 158.6 251.8 161 253.1 162.6C254.3 164.2 255.6 165.7 256.9 166.3C258.2 166.9 259.6 166.6 260.7 166.3C261.8 166.1 262.8 164.7 263.7 164.8C264.6 164.9 265.3 166.2 265.9 167.1C266.5 168 267 169.5 267.2 170L267.4 190C267.5 190 267.4 190.7 268 190C268.6 189.3 270 187.7 271 186C272 184.3 272.8 182.9 274 180C275.2 177.1 277 172 278.5 168.6C280 165.2 281.4 161.8 283 159.6C284.6 157.3 286.8 155.1 288.3 155.1C289.8 155.1 291 157.1 292.1 159.6C293.2 162.1 294.1 166.3 295.1 170.1C296.1 173.8 297.2 178.8 298.1 182.1C299 185.4 299.8 189 300.5 190C301.2 191 301.8 189.7 302.5 188C303.2 186.3 304.1 183.2 304.8 180C305.5 176.8 305.9 171.4 306.5 169C307.1 166.6 307.5 166.4 308.6 165.6C309.7 164.8 312 165.5 313.1 164.1C314.2 162.7 314.8 159.5 315.5 157C316.2 154.5 316.6 150.9 317.6 149C318.6 147.1 320.3 146.2 321.4 145.3C322.5 144.4 323.5 143.4 324.4 143.8C325.3 144.2 326.2 146.9 326.6 147.5L326.8 162C327.5 162.7 329.6 165.5 331.1 166.3C332.6 167.2 334.2 167.3 335.7 167.1C337.2 166.8 338.7 165.6 340.2 164.8C341.7 164.1 343.2 163.2 344.7 162.6C346.2 162 347.6 161.3 349.2 161.1C350.8 160.9 352.2 161.4 354 161.5C355.8 161.6 358.2 161.2 360 161.8C361.8 162.4 363 163.7 364.5 164.8C366 165.9 367.5 167.5 369 168.6C370.5 169.7 372.1 171.2 373.6 171.6C375.1 172 376.6 171.4 378.1 170.8C379.6 170.2 381.4 168.6 382.6 167.8C383.8 167 385 166.3 385.5 166L386.3 182C386.6 182 387.3 182.3 388 182C388.7 181.7 389.6 181 390.5 180C391.4 179 392.3 177.7 393.1 176.1C393.9 174.5 394.8 172.7 395.5 170.5C396.2 168.3 396.9 165.6 397.6 163C398.3 160.4 399 157 399.9 155.1C400.8 153.2 402 151.3 402.9 151.3C403.8 151.3 404.2 153.5 405.1 155.1C406 156.7 407.1 159.1 408.1 161.1C409.1 163.1 410.3 165.5 411.2 167.1C412.1 168.7 412.5 171.1 413.4 170.8C414.3 170.6 415.5 168 416.4 165.6C417.3 163.2 417.8 159.6 418.7 156.6C419.6 153.6 420.7 150.3 421.7 147.5C422.7 144.7 423.7 142 424.7 140C425.7 138 426.3 136.4 427.5 135.5C428.7 134.6 430.2 134.2 432 134.3C433.8 134.4 436.2 135.6 438 136.3C439.8 137 441.4 137.6 442.5 138.5C443.6 139.4 444.3 140.8 444.8 141.5C445.3 142.2 445.4 142.8 445.5 143L447 146C447.8 146.8 450.1 149 451.6 150.5C453.1 152 454.4 153.8 456.1 155.1C457.9 156.4 459.9 157.3 462.1 158.1C464.4 158.8 467.1 159.6 469.6 159.6C472.1 159.6 474.6 158.7 477.1 158.1C479.6 157.5 482.1 156.6 484.6 155.8C487.1 155.1 489.9 154.1 492.2 153.6C494.5 153.1 496.4 152.6 498.2 152.8C499.9 153.1 501.6 154.4 502.7 155.1C503.8 155.8 504.2 156.7 504.5 157L505.5 154.3C506.3 154.9 508.3 156.7 510.1 158.1C511.9 159.5 514.1 161.1 516.1 162.6C518.1 164.1 520.1 165.6 522.1 167.1C524.1 168.6 526.1 171.1 528.1 171.6C530.1 172.1 532.4 170.8 534.1 170.1C535.9 169.3 537.1 167.2 538.6 167.1C540.1 167 541.6 168.7 543.1 169.4C544.6 170.2 546.1 171.4 547.6 171.6C549.1 171.8 550.7 171.4 552.2 170.8C553.7 170.2 555.2 168.9 556.7 167.8C558.2 166.7 560 165.2 561.2 164.1C562.5 163 563.7 161.9 564.2 161.5"/>
<path stroke="#ff00ff" stroke-dasharray="3 2.6" d="M29.5 221C29.7 220.7 29.8 220.7 30.5 219.1C31.2 217.5 32.2 214.1 33.5 211.6C34.8 209.1 36.5 205.8 38 204.1C39.5 202.3 41 201.5 42.5 201.1C44 200.7 45.5 201.8 47 201.8C48.5 201.8 50.1 201.3 51.6 201.1C53.1 200.8 54.6 200.1 56.1 200.3C57.6 200.6 59.1 201.8 60.6 202.6C62.1 203.3 63.8 205.1 65.1 204.8C66.3 204.6 67.1 203.2 68.1 201.1C69.1 199 70.1 194.3 71.1 192C72.1 189.7 73.1 187.8 74.1 187.5C75.1 187.2 75.8 188.2 77.1 190.5C78.3 192.8 80.2 197.8 81.6 201.1C83 204.4 84.3 208.8 85.4 210.1C86.5 211.4 87.7 209.2 88.2 209L88.6 198.5C88.9 198.4 89.8 197.4 90.6 198.1C91.4 198.8 92.3 200.8 93.6 202.6C94.9 204.3 96.7 207.7 98.2 208.6C99.7 209.5 101.2 208.6 102.7 207.8C104.2 207.1 105.7 205.5 107.2 204.1C108.7 202.7 110.2 201.4 111.7 199.6C113.2 197.8 114.6 194.4 116 193C117.4 191.6 118.7 191.5 120 191C121.3 190.5 122.9 189.7 124 190C125.1 190.3 125.6 190.7 126.5 193C127.4 195.3 128.4 200.8 129.5 204.1C130.6 207.4 132.2 210.8 133.3 213.1C134.4 215.3 135.3 217.3 136.3 217.6C137.3 217.8 138.4 216.6 139.3 214.6C140.2 212.6 140.8 208.6 141.6 205.6C142.3 202.6 143.1 199.7 143.8 196.6C144.5 193.5 145.3 189.6 146 187C146.7 184.4 147.5 182 147.8 181L148.3 166C148.7 165 149.7 161.4 150.5 160C151.3 158.6 152.2 157.3 153 157.5C153.8 157.7 154.7 158.2 155.5 161C156.3 163.8 156.9 169.3 157.6 174C158.3 178.7 158.8 184 159.6 189C160.4 194 161.6 200.2 162.6 204.1C163.6 208 164.3 210.3 165.6 212.3C166.8 214.3 168.6 215.6 170.1 216.1C171.6 216.6 173.4 216.1 174.7 215.3C176 214.6 176.7 212 177.7 211.6C178.7 211.2 179.6 212 180.7 213.1C181.8 214.2 183.2 218.2 184.4 218.4C185.7 218.7 186.8 216.5 188.2 214.6C189.6 212.7 191.4 209.1 192.7 207.1C194 205.1 194.4 204.6 196 202.6C197.6 200.6 200.2 197.3 202 195C203.8 192.7 205.6 190.3 206.5 189C207.4 187.7 207.3 187.3 207.5 187L207.8 186C208.2 186.5 209.7 187.5 210.5 189C211.3 190.5 211.9 192.2 212.6 195C213.3 197.8 213.9 202.8 214.8 205.6C215.7 208.4 216.8 210.3 217.8 211.6C218.8 212.8 219.8 213.3 220.8 213.1C221.8 212.8 222.7 211.8 223.8 210.1C224.9 208.3 226.3 204.8 227.6 202.6C228.8 200.3 230.1 198.6 231.3 196.6C232.6 194.6 233.8 192.8 235.1 190.5C236.4 188.2 237.8 185 238.9 183C240 181 241 179.4 241.9 178.5C242.8 177.6 243.3 177.4 244.1 177.8C244.8 178.2 245.4 179.9 246.4 180.8C247.4 181.7 249 181.1 250.1 183C251.2 184.9 252.1 189.2 253.1 192C254.1 194.8 255.2 196.8 256.2 199.6C257.2 202.4 258.2 206.2 259.2 208.6C260.2 211 261.2 213.2 262.2 213.8C263.2 214.4 264.3 213.2 265.2 212.3C266.1 211.4 267 209.2 267.4 208.6L267.6 207C268 206.3 269.1 204.7 270 203C270.9 201.3 271.9 199.2 273 197C274.1 194.8 275.3 192.2 276.5 190C277.7 187.8 278.9 185.9 280 183.6C281.1 181.3 282.1 177.6 283 176C283.9 174.4 284.7 174 285.5 173.9C286.3 173.8 287 174.3 288 175.5C289 176.7 290.3 178.5 291.3 181C292.3 183.5 293.1 187.4 294 190.5C294.9 193.6 295.4 196.6 296.6 199.6C297.8 202.6 299.7 206.2 301.1 208.6C302.5 211 303.7 212.7 304.8 213.8C305.9 214.9 306.7 215.6 307.8 215.3C308.9 215.1 310.2 213.9 311.6 212.3C313 210.7 314.7 208 316.1 205.6C317.5 203.2 318.8 200.6 319.9 198.1C321 195.6 322 193 322.9 190.5C323.8 188 324.5 185.2 325.1 183C325.7 180.8 326.4 178 326.6 177L327 186C327.2 186.2 327.2 186.7 328 187.5C328.8 188.3 330.7 190 332 191C333.3 192 334.6 192.9 336 193.5C337.4 194.1 338.5 194.4 340.2 194.3C341.9 194.2 343.9 193.2 346.2 192.8C348.5 192.4 351.7 192.2 354 192C356.3 191.8 358.2 191.2 360 191.3C361.8 191.4 363 192.4 364.5 192.8C366 193.2 367.5 193.2 369 193.5C370.5 193.8 372.1 193.8 373.6 194.3C375.1 194.8 376.6 196 378.1 196.6C379.6 197.2 381.4 198.1 382.6 198.1C383.9 198.1 385.1 196.8 385.6 196.6L386.5 197C386.9 197.4 387.6 198.5 388.6 199.6C389.6 200.7 391.3 203.3 392.4 203.3C393.5 203.3 394.3 202 395.4 199.6C396.5 197.2 398 192.5 399.1 189C400.2 185.5 401.2 181.4 402.1 178.5C403 175.6 403.8 172.6 404.5 171.5C405.2 170.4 405.8 170.1 406.5 172C407.2 173.9 407.8 178.8 408.5 183C409.2 187.2 409.8 192.2 410.5 197C411.2 201.8 411.9 207.9 412.5 212C413.1 216.1 413.5 219.4 414.2 221.4C414.9 223.4 415.8 223.6 416.5 224C417.2 224.4 417.8 224.9 418.7 223.6C419.6 222.3 420.7 218.8 421.7 216.1C422.7 213.3 423.7 210.2 424.7 207.1C425.7 204 426.7 200.5 427.7 197.5C428.7 194.5 429.6 191.5 430.7 189C431.8 186.5 433 184.6 434.5 182.5C436 180.4 438.2 177.5 439.5 176.3C440.8 175.1 441.8 175.1 442.5 175.5C443.2 175.9 443.6 177.9 444 178.5C444.4 179.1 445 178.9 445.2 179L445.6 161.5C446.1 161.4 447.4 160.2 448.6 161.1C449.9 162 451.6 165.3 453.1 167.1C454.6 168.8 455.9 170.3 457.6 171.6C459.4 172.8 461.4 174.2 463.6 174.6C465.9 175 468.6 174.5 471.1 173.9C473.6 173.3 476.1 171.7 478.6 170.8C481.1 169.9 483.8 169.1 486.1 168.6C488.4 168.1 490.5 167.2 492.2 167.8C493.9 168.4 495.2 170 496.5 172C497.8 174 498.7 177.9 499.7 180C500.7 182.1 501.9 184.3 502.7 184.5C503.5 184.7 504.2 181.6 504.5 181L504.8 168.6C505.4 169.2 507.2 170.6 508.6 172.3C510 174.1 511.6 176.8 513.1 179.1C514.6 181.4 515.9 183.7 517.6 186C519.4 188.3 521.9 191.6 523.6 192.8C525.4 194.1 526.6 193.8 528.1 193.5C529.6 193.2 531.1 191.6 532.6 191.3C534.1 191.1 535.6 191.4 537.1 192C538.6 192.6 539.9 193.9 541.6 195C543.4 196.1 545.7 197.3 547.6 198.8C549.5 200.3 551.4 203.8 552.9 204.1C554.4 204.3 555.6 202.1 556.7 200.3C557.8 198.5 558.8 195.6 559.7 193.5C560.6 191.4 561.1 189.4 561.9 187.5C562.6 185.6 563.8 182.9 564.2 182"/>
<path stroke="#ff0000" stroke-dasharray="6 4.5" d="M30.5 167.1C31.5 167 34.5 166.2 36.5 166.3C38.5 166.4 40.5 167.2 42.5 167.8C44.5 168.4 46.5 169.5 48.5 170.1C50.5 170.7 52.8 171.1 54.6 171.6C56.4 172.1 57.6 172.5 59.1 173.1C60.6 173.7 62.1 174.9 63.6 175.4C65.1 175.9 66.6 176.7 68.1 176.1C69.6 175.5 71.3 172.8 72.6 171.6C73.8 170.3 74.6 168.8 75.6 168.6C76.6 168.3 77.6 169.1 78.6 170.1C79.6 171.1 80.6 172.8 81.6 174.6C82.6 176.3 83.5 178.7 84.6 180.6C85.7 182.5 87.4 185.1 88 186L89.5 192C90.2 192.6 92.1 194.8 93.6 195.5C95 196.2 96.4 196.5 98.2 196.3C100 196.1 102.5 195.6 104.2 194.5C106 193.4 107.2 191.8 108.7 189.5C110.2 187.2 112 185.1 113.2 181C114.4 176.9 115 168.9 116 165C117 161.1 118 158.1 119 157.3C120 156.5 121 157.9 122 160C123 162.1 124 166.5 125 170C126 173.5 127 177.2 128 181C129 184.8 130 189.8 131 193C132 196.2 133 198.7 134 200C135 201.3 136 201.7 137 201C138 200.3 138.9 198.3 140 196C141.1 193.7 142.4 190.3 143.5 187C144.6 183.7 145.8 178.7 146.5 176C147.2 173.3 147.6 171.8 147.8 171L149 166C149.3 164.3 150.2 159.1 151 156C151.8 152.9 152.8 148.5 153.6 147.5C154.4 146.5 155.3 148.2 156 150C156.7 151.8 157.2 154.3 158 158C158.8 161.7 159.6 167.3 160.5 172C161.4 176.7 162.4 182.2 163.5 186C164.6 189.8 165.7 192.7 167 195C168.3 197.3 170.1 199.3 171.6 199.6C173.1 199.9 174.7 197.9 176.2 196.6C177.7 195.3 179.2 193.5 180.7 192C182.2 190.5 183.7 189.2 185.2 187.5C186.7 185.8 188.4 183.8 189.7 181.5C191 179.2 191.8 176.9 193 174C194.2 171.1 195.5 166.1 196.8 164C198.1 161.9 199.8 161.5 201 161.5C202.2 161.5 203.1 162.6 204 164C204.9 165.4 205.9 168.3 206.5 170C207.1 171.7 207.3 173.3 207.5 174L208.5 172C209.1 173.3 210.8 176.8 212 180C213.2 183.2 214.7 187.7 216 191C217.3 194.3 218.8 198.2 220 200C221.2 201.8 222 202.3 223 202C224 201.7 224.9 200.7 226 198C227.1 195.3 228.3 190.3 229.5 186C230.7 181.7 231.8 176.8 233 172C234.2 167.2 235.3 160.5 236.5 157C237.7 153.5 239 151.8 240 151C241 150.2 241.7 150.8 242.5 152C243.3 153.2 244.1 155.3 245 158C245.9 160.7 246.9 163.8 248 168C249.1 172.2 250.2 179 251.6 183C253 187 254.7 189.7 256.2 192C257.7 194.3 259.2 195.7 260.7 196.6C262.2 197.5 264.1 197.2 265.2 197.3C266.2 197.5 266.7 197.5 267 197.5L268.5 196C269.1 194.7 270.8 191 272 188C273.2 185 274.7 181.3 276 178C277.3 174.7 278.7 171.2 280 168C281.3 164.8 282.8 160.8 284 159C285.2 157.2 286 156.8 287 157C288 157.2 289 157.8 290 160C291 162.2 291.9 166.5 293 170C294.1 173.5 295.3 177.3 296.5 181C297.7 184.7 298.9 189 300 192C301.1 195 302 197.8 303 199C304 200.2 304.9 200.5 306 199C307.1 197.5 308.3 193.5 309.5 190C310.7 186.5 311.9 182 313 178C314.1 174 315 169.8 316 166C317 162.2 318 157.8 319 155C320 152.2 321.1 150 322 149C322.9 148 323.7 147.8 324.5 149C325.3 150.2 326.6 154.8 327 156L330 168C330.7 169 332.6 172.6 334 174C335.4 175.4 337.2 176.2 338.7 176.5C340.2 176.8 341.4 175.9 343.2 175.5C344.9 175.1 347.4 174.2 349.2 174C351 173.8 352.2 173.8 354 174C355.8 174.2 358 174.6 360 175.5C362 176.4 364 178.2 366 179.5C368 180.8 370 182.5 372 183.5C374 184.5 376 185.1 378 185.5C380 185.9 382.7 185.9 384 186C385.3 186.1 385.7 186 386 186L387.5 188C387.8 188.8 388.8 191.8 389.5 193C390.2 194.2 390.8 195.2 391.5 195C392.2 194.8 392.8 194.2 393.5 192C394.2 189.8 394.8 185.7 395.5 182C396.2 178.3 397.2 173.7 398 170C398.8 166.3 399.8 162.7 400.5 160C401.2 157.3 401.8 154.8 402.5 154C403.2 153.2 403.8 153.7 404.5 155C405.2 156.3 405.8 158.8 406.5 162C407.2 165.2 407.8 169.3 408.5 174C409.2 178.7 409.8 185.2 410.5 190C411.2 194.8 411.8 200 412.5 203C413.2 206 413.8 207.8 414.5 208C415.2 208.2 415.8 206.5 416.5 204C417.2 201.5 417.8 197 418.5 193C419.2 189 419.8 184.2 420.5 180C421.2 175.8 421.8 172.5 422.5 168C423.2 163.5 424.1 157.2 425 153C425.9 148.8 426.8 145.2 428 143C429.2 140.8 430.6 140.2 432 139.5C433.4 138.8 435 138.7 436.5 139C438 139.3 439.7 140.5 441 141.5C442.3 142.5 443.8 144.2 444.5 145C445.2 145.8 445.3 145.8 445.5 146L447.5 147.5C448.2 148.2 450.1 150.6 451.5 152C452.9 153.4 454.2 154.7 456 156C457.8 157.3 460 159.1 462 160C464 160.9 466 161.2 468 161.5C470 161.8 472 161.8 474 161.5C476 161.2 478 160.7 480 160C482 159.3 484 158.3 486 157.5C488 156.7 490.2 155.6 492 155C493.8 154.4 495.4 153.8 497 154C498.6 154.2 500.2 155.2 501.5 156C502.8 156.8 504.3 158.5 504.9 159L507 160.5C508 161.4 511 164.2 513 166C515 167.8 517 169.8 519 171.5C521 173.2 523 174.5 525 176C527 177.5 529 178.9 531 180.5C533 182.1 535 184 537 185.5C539 187 541.5 188.6 543 189.5C544.5 190.4 544.5 190.9 546 190.8C547.5 190.7 550.4 190.1 552.2 189C554 187.9 555.2 186.3 556.7 184.5C558.2 182.7 559.9 180.4 561 178C562.1 175.6 563 171.8 563.5 170C564 168.2 564.1 167.5 564.2 167"/>
<path stroke="#ff0000" stroke-dasharray="6 4.5" d="M30.5 193.5C31 192.8 32.2 190.5 33.5 189C34.8 187.5 36.2 185.8 38 184.5C39.8 183.2 42 182.1 44 181.5C46 180.9 48.2 180.5 50 181C51.8 181.5 53.1 182.9 54.6 184.5C56.1 186.1 57.6 189.1 59.1 190.5C60.6 191.9 62.1 192.8 63.6 192.8C65.1 192.8 66.6 191.6 68.1 190.5C69.6 189.4 71.3 186.5 72.6 186C73.8 185.5 74.3 186 75.6 187.5C76.8 189 78.6 192.7 80.1 195C81.6 197.3 83.3 200 84.6 201.1C85.8 202.2 86.9 201.8 87.6 201.8C88.3 201.8 88.4 201.1 88.6 201L90.5 199C91 199.5 92.5 201 93.6 202C94.7 203 95.9 204.2 97 205C98.1 205.8 99 206.3 100 206.5C101 206.7 102 206.6 103 206C104 205.4 105 204.5 106 203C107 201.5 108 199.5 109 197C110 194.5 111 191.2 112 188C113 184.8 114 181.3 115 178C116 174.7 117.2 170.2 118 168C118.8 165.8 119.3 165 120 165C120.7 165 121.2 165.5 122 168C122.8 170.5 124 176.2 125 180C126 183.8 127 187.3 128 191C129 194.7 130 199 131 202C132 205 133.1 207.5 134 209C134.9 210.5 135.7 211 136.5 211C137.3 211 138.1 210.7 139 209C139.9 207.3 141 204.3 142 201C143 197.7 144.1 192.8 145 189C145.9 185.2 147.1 179.8 147.5 178L149 174C149.3 172.5 150.3 167.8 151 165C151.7 162.2 152.3 158.5 153 157C153.7 155.5 154.3 155.2 155 156C155.7 156.8 156.2 158.7 157 162C157.8 165.3 158.7 171.3 159.5 176C160.3 180.7 160.9 185.5 162 190C163.1 194.5 164.7 199.7 166 203C167.3 206.3 168.7 208.7 170.1 210.1C171.5 211.5 172.9 212.1 174.7 211.6C176.5 211.1 178.9 208.8 180.7 207.1C182.4 205.3 183.4 203.9 185.2 201.1C186.9 198.3 189.7 193.5 191.2 190.5C192.7 187.5 192.9 185.6 194 183C195.1 180.4 196.7 176.7 198 175C199.3 173.3 200.8 172.8 202 173C203.2 173.2 204.1 174.3 205 176C205.9 177.7 206.9 181.8 207.3 183L208.5 180C209.1 181 210.8 183.2 212 186C213.2 188.8 214.7 193.3 216 197C217.3 200.7 218.8 205.7 220 208C221.2 210.3 222 211 223 211C224 211 224.9 210.5 226 208C227.1 205.5 228.3 200.3 229.5 196C230.7 191.7 231.9 186.7 233 182C234.1 177.3 235 171.8 236 168C237 164.2 238 160.7 239 159C240 157.3 241 157.2 242 158C243 158.8 244 161.2 245 164C246 166.8 247 171.3 248 175C249 178.7 249.9 181.9 251 186C252.1 190.1 253.3 196.2 254.7 199.6C256.1 203 257.7 204.7 259.2 206.3C260.7 207.9 262.4 208.9 263.7 209.3C264.9 209.7 266.2 208.7 266.7 208.6L268.5 206C269.1 204.7 270.8 200.8 272 198C273.2 195.2 274.7 192.2 276 189C277.3 185.8 278.7 182.2 280 179C281.3 175.8 282.8 172.3 284 170C285.2 167.7 286 165.7 287 165C288 164.3 289 164.3 290 166C291 167.7 291.9 171.7 293 175C294.1 178.3 295.3 182.3 296.5 186C297.7 189.7 298.8 193.5 300 197C301.2 200.5 302.5 205 303.5 207C304.5 209 305.1 209.3 306 209C306.9 208.7 308 207.2 309 205C310 202.8 311 199.3 312 196C313 192.7 314 189 315 185C316 181 317 176 318 172C319 168 320 163.7 321 161C322 158.3 323.1 156.2 324 156C324.9 155.8 326.1 159.3 326.5 160L330 174C330.7 174.9 332.6 178.2 334 179.5C335.4 180.8 337.2 181.7 338.7 182C340.2 182.3 341.4 181.8 343.2 181.5C344.9 181.2 347.4 180.2 349.2 180C351 179.8 352.2 179.8 354 180C355.8 180.2 358 180.8 360 181.5C362 182.2 364 183.2 366 184.5C368 185.8 370 187.8 372 189C374 190.2 376 190.8 378 191.5C380 192.2 382.7 193.1 384 193.5C385.3 193.9 385.7 193.9 386 194L387.5 194C387.8 195 388.8 198.7 389.5 200C390.2 201.3 390.8 202 391.5 202C392.2 202 392.8 201.8 393.5 200C394.2 198.2 394.8 194.2 395.5 191C396.2 187.8 396.8 184.2 397.5 181C398.2 177.8 399.2 174.8 400 172C400.8 169.2 401.8 165.3 402.5 164C403.2 162.7 403.8 163 404.5 164C405.2 165 405.8 167.3 406.5 170C407.2 172.7 407.8 176 408.5 180C409.2 184 409.8 189.5 410.5 194C411.2 198.5 411.8 203.3 412.5 207C413.2 210.7 413.8 214.3 414.5 216C415.2 217.7 415.8 218 416.5 217C417.2 216 417.8 213.2 418.5 210C419.2 206.8 419.8 202.2 420.5 198C421.2 193.8 421.8 189.5 422.5 185C423.2 180.5 424.1 175 425 171C425.9 167 426.8 163.7 428 161C429.2 158.3 430.6 156.2 432 155C433.4 153.8 435 153.2 436.5 153.5C438 153.8 439.8 155.9 441 157C442.2 158.1 443.2 159.5 444 160C444.8 160.5 445.2 160 445.5 160L447.5 155C448.2 156 449.9 159.1 451.5 161C453.1 162.9 454.9 165.2 457 166.5C459.1 167.8 461.5 168.4 464 168.8C466.5 169.2 469.3 169.2 472 169C474.7 168.8 477.5 168.3 480 167.5C482.5 166.7 485 165 487 164C489 163 490.2 162.1 492 161.5C493.8 160.9 496.3 160.6 498 160.5C499.7 160.4 500.9 160.6 502 161C503.1 161.4 504.4 162.7 504.9 163L507 166.5C508 167.3 511 169.8 513 171.5C515 173.2 517 175.2 519 177C521 178.8 523 180.8 525 182.5C527 184.2 529 185.6 531 187C533 188.4 535 189.8 537 191C539 192.2 541.2 193.7 543 194.5C544.8 195.3 546.4 195.9 548 196C549.6 196.1 551.2 195.8 552.5 195C553.8 194.2 554.8 192.2 556 191C557.2 189.8 558.6 189.7 559.7 187.5C560.8 185.3 561.8 180.9 562.5 178C563.2 175.1 563.9 171.3 564.2 170"/>
<path stroke="#ff0000" d="M30.5 179.5C31.2 178.9 33.5 176.9 35 176.1C36.5 175.3 38 175.2 39.5 174.9C41 174.7 42.5 174.6 44 174.6C45.5 174.6 47 174.9 48.5 175.2C50 175.5 51.6 175.9 53.1 176.5C54.6 177.1 56.1 178 57.6 178.8C59.1 179.6 60.6 180.6 62.1 181.2C63.6 181.8 65.1 182.6 66.6 182.2C68.1 181.8 69.8 179.8 71.1 178.8C72.3 177.8 73.1 176.4 74.1 176.1C75.1 175.8 76.1 176.2 77.1 176.9C78.1 177.6 78.9 178.4 80.1 180C81.3 181.6 83.2 184.8 84.4 186.5C85.7 188.2 86.9 189.6 87.6 190.5C88.3 191.4 88.4 191.8 88.6 192L89.2 192.5C89.4 192.9 89.6 193.9 90.6 195C91.6 196.1 93.7 197.7 95.2 198.8C96.7 199.9 98.2 201.4 99.7 201.8C101.2 202.2 103 202 104.2 201.1C105.5 200.2 106.2 199.3 107.2 196.6C108.2 193.9 109.2 188.5 110.2 185C111.2 181.5 112.3 178.7 113.2 175.5C114.1 172.3 114.8 168.2 115.5 166C116.2 163.8 116.8 162.8 117.5 162C118.2 161.2 118.8 161.2 119.5 161.5C120.2 161.8 120.8 162.6 121.5 164C122.2 165.4 122.9 168.1 123.5 170C124.1 171.9 124.2 172.8 125 175.5C125.8 178.2 127 182.2 128 186C129 189.8 130 194.8 131 198.1C132 201.4 133.2 204.1 134.1 205.6C135 207.1 135.6 207.3 136.3 207.1C137.1 206.8 137.7 205.8 138.6 204.1C139.5 202.3 140.6 199.9 141.6 196.6C142.6 193.3 143.7 187.8 144.6 184.5C145.5 181.2 146.3 178.9 146.8 177C147.3 175.1 147.6 173.7 147.8 173L148.8 170C149.1 168.3 150 162.8 150.5 160C151 157.2 151.4 154.7 152 153C152.6 151.3 153.2 150.1 153.8 150C154.4 149.9 154.9 150.7 155.5 152.5C156.1 154.3 156.8 157.4 157.5 161C158.2 164.6 158.8 169.1 159.6 174C160.4 178.9 161.6 186.2 162.6 190.5C163.6 194.8 164.6 197.1 165.6 199.6C166.6 202.1 167.6 204.2 168.6 205.6C169.6 207 170.3 207.7 171.6 207.8C172.9 207.9 174.7 207.2 176.2 206.3C177.7 205.4 179.2 204 180.7 202.6C182.2 201.2 183.7 200.1 185.2 198.1C186.7 196.1 188.5 193.5 189.7 190.5C190.9 187.5 191.4 183.4 192.5 180C193.6 176.6 194.7 172.1 196 170.1C197.3 168.1 199.2 167.8 200.5 167.8C201.8 167.8 202.6 169 203.5 170.1C204.4 171.2 205.2 173.1 205.8 174.6C206.4 176.1 207.1 178.3 207.3 179.1L207.8 175C208.3 175.8 209.7 176.9 211 180C212.3 183.1 214.1 189.2 215.6 193.5C217.1 197.8 219 203.2 220.1 205.6C221.2 208 221.4 208.1 222.3 207.8C223.2 207.6 224.2 206.7 225.3 204.1C226.4 201.5 228 196 229.1 192C230.2 188 231.1 184.3 232 180C232.9 175.7 233.7 169.4 234.5 166C235.3 162.6 235.8 161.7 236.6 159.6C237.4 157.5 238.7 154.6 239.6 153.6C240.5 152.6 241.2 152.8 241.9 153.6C242.7 154.3 243.2 155.8 244.1 158.1C245 160.3 246.1 163.6 247.1 167.1C248.1 170.6 249.3 175.9 250.1 179.1C250.8 182.2 250.8 183.6 251.6 186C252.4 188.4 253.7 191.1 254.7 193.5C255.7 195.9 256.7 198.5 257.7 200.3C258.7 202.1 259.7 203.3 260.7 204.1C261.7 204.8 262.7 204.8 263.7 204.8C264.7 204.8 266.2 204.2 266.7 204.1L267.6 203.5C267.9 203.1 268.7 202.8 269.5 201.1C270.3 199.4 271.5 196.3 272.5 193.5C273.5 190.7 274.5 187.5 275.5 184.5C276.5 181.5 277.6 178.4 278.5 175.5C279.4 172.6 280.1 169.4 281 167C281.9 164.6 283 162.2 284 161C285 159.8 285.9 159.6 286.8 159.6C287.7 159.6 288.6 158.9 289.5 161C290.4 163.1 291.6 168.8 292.5 172C293.4 175.2 294.2 177.2 295.1 180C296 182.8 297.1 185.7 298.1 189C299.1 192.3 300.1 196.7 301.1 199.6C302.1 202.5 303.1 205.4 304.1 206.3C305.1 207.2 306.1 206.4 307.1 204.8C308.1 203.2 309.1 199.7 310.1 196.6C311.1 193.5 312.2 189.3 313.1 186C314 182.7 314.6 179.9 315.4 177C316.1 174.1 316.7 172 317.6 168.6C318.5 165.2 319.7 159.6 320.6 156.6C321.6 153.6 322.4 150.8 323.3 150.5C324.2 150.2 325.3 153.8 325.9 155.1C326.4 156.3 326.5 157.5 326.6 158L327 160C327.2 160.7 327.4 162.2 328.1 164.1C328.8 166 330.1 169.6 331.1 171.6C332.1 173.6 332.9 174.8 334.2 176.1C335.5 177.3 337.2 178.8 338.7 179.1C340.2 179.3 341.4 178.1 343.2 177.6C344.9 177.1 347.4 176.3 349.2 176.1C351 175.9 352.2 176 354 176.3C355.8 176.6 358 176.8 360 177.8C362 178.8 364 180.8 366 182.3C368 183.8 370.1 185.7 372.1 186.8C374.1 187.9 376.1 188.4 378.1 189C380.1 189.6 382.7 190.3 384.1 190.5C385.5 190.7 385.9 190.1 386.3 190L387.1 190.5C387.5 191.5 388.7 195.2 389.3 196.6C389.9 198 390.3 198.8 390.9 198.8C391.5 198.8 392.4 198.7 393.1 196.6C393.9 194.5 394.7 189.6 395.4 186C396.1 182.4 396.8 178.5 397.5 175C398.2 171.5 399.1 167.9 399.9 165C400.7 162.1 401.4 158.7 402.1 157.3C402.8 155.9 403.3 155.5 403.9 156.6C404.5 157.7 405.2 160.8 405.9 164.1C406.6 167.3 407.5 172.4 408.1 176.1C408.7 179.8 409.1 181.8 409.6 186C410.1 190.2 410.5 196.6 411.1 201.1C411.7 205.6 412.8 210.7 413.4 213.1C414 215.5 414.3 215.8 414.9 215.3C415.5 214.8 416.4 213 417.2 210.1C417.9 207.2 418.6 202.6 419.4 198.1C420.1 193.6 421 187.3 421.7 183C422.4 178.7 422.8 175.7 423.5 172C424.2 168.3 425.2 164.7 426 161.1C426.8 157.5 427.3 152.8 428.3 150.5C429.3 148.2 430.6 148.1 432 147.5C433.4 146.9 435 146.7 436.5 146.8C438 146.9 439.8 147.7 441 148.3C442.2 148.9 443.2 150.1 444 150.5C444.8 150.9 445.2 150.9 445.5 151L446 150C446.2 150 446.1 149 447 149.8C447.9 150.7 450.1 153.3 451.6 155.1C453.1 156.8 454.6 158.8 456.1 160.3C457.6 161.8 458.9 163.2 460.6 164.1C462.4 165 464.6 165.7 466.6 165.9C468.6 166.2 470.6 165.9 472.6 165.6C474.6 165.3 476.6 164.7 478.6 164.1C480.6 163.5 482.6 162.7 484.6 161.8C486.6 160.9 488.7 159.6 490.7 158.8C492.7 158.1 494.9 157.3 496.7 157.3C498.4 157.3 499.8 158.2 501.2 158.8C502.6 159.4 504.3 160.7 504.9 161.1L507 162.6C508 163.5 511.1 166.1 513.1 167.8C515.1 169.6 517.1 171.5 519.1 173.1C521.1 174.7 523.1 176 525.1 177.6C527.1 179.2 529.6 181.3 531.1 182.5C532.6 183.7 532.6 183.4 534.1 184.5C535.6 185.6 538.1 187.6 540.1 189C542.1 190.4 544.5 192.1 546.1 192.8C547.7 193.6 548.6 193.9 549.9 193.5C551.2 193.1 552.5 192 553.7 190.5C555 189 556.1 186.8 557.4 184.5C558.6 182.2 560.2 179.4 561.2 177C562.2 174.6 562.9 171.7 563.4 170.1C563.9 168.5 564.1 167.9 564.2 167.5"/>
<path stroke="#ff00ff" stroke-dasharray="3 2.6" d="M88.4 163.3L88.6 184M147.3 158.5L148.6 154M267.2 170L267.4 190M326.6 147.5L326.8 162M385.5 166L386.3 182M504.5 157L505.5 154.3"/>
<path stroke="#ff00ff" stroke-dasharray="3 2.6" d="M88.2 209L88.6 198.5M147.8 181L148.3 166M207.5 187L207.8 186M267.4 208.6L267.6 207M326.6 177L327 186M385.6 196.6L386.5 197M445.2 179L445.6 161.5M504.5 181L504.8 168.6"/>
</g>
<g fill="none" stroke="#000" stroke-width="2"><ellipse cx="89.1" cy="192.3" rx="2.85" ry="2.2"/><ellipse cx="148.2" cy="172.7" rx="2.85" ry="2.2"/><ellipse cx="207.7" cy="170.8" rx="2.85" ry="2.2"/><ellipse cx="267.4" cy="203.3" rx="2.85" ry="2.2"/><ellipse cx="326.6" cy="162.1" rx="2.85" ry="2.2"/><ellipse cx="386.3" cy="189.5" rx="2.85" ry="2.2"/><ellipse cx="445.5" cy="148.6" rx="2.85" ry="2.2"/><ellipse cx="504.9" cy="161.1" rx="2.85" ry="2.2"/><ellipse cx="564.2" cy="167.4" rx="2.85" ry="2.2"/></g>
<path fill="none" stroke="#7c7c7c" stroke-width="1.25" d="M29.5 134.3H564.5V225.1H29.5Z"/>
<path fill="none" stroke="#808080" stroke-width="1.5" d="M29.3 225.1v-4.6M29.3 134.3v4.6M88.7 225.1v-4.6M88.7 134.3v4.6M148.2 225.1v-4.6M148.2 134.3v4.6M207.6 225.1v-4.6M207.6 134.3v4.6M267.1 225.1v-4.6M267.1 134.3v4.6M326.5 225.1v-4.6M326.5 134.3v4.6M386 225.1v-4.6M386 134.3v4.6M445.4 225.1v-4.6M445.4 134.3v4.6M504.9 225.1v-4.6M504.9 134.3v4.6M564.3 225.1v-4.6M564.3 134.3v4.6M29.5 140.5h4.8M564.5 140.5h-4.8M29.5 161.1h4.8M564.5 161.1h-4.8M29.5 181.8h4.8M564.5 181.8h-4.8M29.5 202.5h4.8M564.5 202.5h-4.8M29.5 223.3h4.8M564.5 223.3h-4.8"/>
<g font-family="Liberation Sans, Arial, sans-serif" font-size="9.8" fill="#1a1a1a" stroke="#1a1a1a" stroke-width="0.25" text-anchor="end"><text transform="translate(27.3 144.5) scale(1.16 1)">2</text><text transform="translate(27.3 165.1) scale(1.16 1)">1</text><text transform="translate(27.3 185.8) scale(1.16 1)">0</text><text transform="translate(27.3 206.5) scale(1.16 1)">−1</text><text transform="translate(27.3 227.3) scale(1.16 1)">−2</text></g>
<text transform="translate(8.4 179.6) scale(1.2 1) rotate(-90)" font-family="Liberation Serif, serif" font-style="italic" font-size="13" fill="#1a1a1a" stroke="#1a1a1a" stroke-width="0.3" text-anchor="middle">y</text>
<g clip-path="url(#c2)" fill="none" stroke-width="1.4">
<path stroke="#0000ff" d="M30.5 295.6C31 294.6 32.5 292 33.5 289.5C34.5 287 35.7 283.4 36.5 280.5C37.3 277.6 37.5 274.9 38.5 272C39.5 269.1 41.3 265.7 42.5 263C43.7 260.3 44.5 257.5 45.5 255.6C46.5 253.7 47.3 251.9 48.2 251.5C49.1 251.1 49.9 251.6 50.8 253.3C51.7 255 52.8 258.4 53.8 261.6C54.8 264.8 56 269.8 56.8 272.5C57.6 275.2 57.9 276.4 58.5 278C59.1 279.6 59.8 279.3 60.6 282C61.5 284.7 62.6 290.6 63.6 294C64.6 297.4 65.7 301 66.6 302.5C67.5 304 68 304.2 68.8 303.1C69.5 302 70.2 298.9 71.1 295.6C72 292.3 73.2 287.8 74.1 283.5C75 279.2 75.5 275.1 76.4 270C77.3 264.9 78.4 256.9 79.4 252.6C80.4 248.3 81.4 246 82.4 244.3C83.4 242.6 84.5 242.4 85.4 242.3C86.3 242.2 87 243 87.6 243.5C88.2 244 88.3 244.3 89.1 245.3C89.8 246.3 90.8 247.4 92.1 249.5C93.4 251.6 95.2 255 96.7 257.8C98.2 260.6 100 263.6 101.2 266.1C102.5 268.6 103 270.8 104.2 273C105.5 275.2 107.7 277.8 108.7 279.5C109.8 281.2 109.5 281.6 110.5 283C111.5 284.4 113.2 286.7 114.5 288C115.8 289.3 117.2 290.6 118.3 290.7C119.4 290.8 120.2 290.3 121.3 288.8C122.4 287.3 123.9 284.3 125 281.5C126.1 278.7 127 275.4 128 272.1C129 268.8 130 264 131 261.6C132 259.2 133.2 258.3 134.1 257.8C135 257.3 135.6 257.2 136.3 258.6C137.1 260 137.9 263.2 138.6 266.1C139.3 269 139.9 273.1 140.5 276C141.1 278.9 141.6 280.2 142.3 283.5C143 286.8 143.8 292.4 144.6 295.6C145.3 298.8 146.1 301.1 146.8 302.5C147.5 303.9 148 305.1 148.6 303.8C149.2 302.6 150 298.4 150.6 295C151.2 291.6 151.3 287.7 152.1 283.1C152.8 278.5 154.1 273.5 155.1 267.6C156.1 261.8 157.1 252.6 158.1 248C159.1 243.4 160.2 240.9 161.1 239.8C162 238.7 162.7 240.2 163.4 241.3C164.2 242.4 164.7 244.1 165.6 246.5C166.5 248.9 167.6 252.6 168.6 255.6C169.6 258.6 170.6 261.7 171.6 264.6C172.6 267.6 173.7 270.7 174.7 273.3C175.7 275.9 176.9 278.5 177.7 280C178.4 281.5 178.2 280.9 179.2 282.5C180.2 284.1 182.2 287.4 183.7 289.5C185.2 291.6 186.8 293.7 188.2 294.8C189.6 295.9 190.7 296.7 192 296.3C193.3 295.9 194.8 294.6 196 292.5C197.2 290.4 198.1 286.9 199 284C199.9 281.1 200.8 278.3 201.5 275C202.2 271.7 202.7 267.2 203.5 264C204.3 260.8 205.8 257.6 206.5 256C207.2 254.3 207.3 254.9 207.7 254.1C208.1 253.3 208.2 251.5 208.8 251C209.4 250.5 210.2 250.4 211 251C211.8 251.6 212.4 252.5 213.3 254.8C214.2 257.1 215.3 261.4 216.3 264.6C217.3 267.8 218.5 271 219.5 274C220.5 277 221.2 279.4 222.3 282.5C223.4 285.6 225 289.6 226.1 292.5C227.2 295.4 228.2 298.6 229.1 300.1C230 301.6 230.6 301.7 231.3 301.6C232.1 301.5 232.7 301.3 233.6 299.3C234.5 297.3 235.7 292.6 236.6 289.5C237.5 286.4 238.2 283.4 238.9 280.5C239.6 277.6 239.7 276.1 240.6 272C241.5 267.9 243 259.9 244.1 255.6C245.2 251.3 246.1 248.4 247.1 246.5C248.1 244.6 249.1 244.3 250.1 244.3C251.1 244.3 252 244.9 253.1 246.5C254.2 248.1 255.6 251.3 256.9 254.1C258.2 256.9 259.6 260.1 260.7 263.1C261.8 266.1 262.8 269.6 263.7 272.1C264.6 274.6 265.3 276.6 265.9 278.1C266.4 279.6 266.6 280 267 281.1C267.4 282.2 267.3 283.4 268 285C268.7 286.6 270 289.4 271 291C272 292.6 273 294 274 294.8C275 295.6 276 295.9 277 295.6C278 295.4 279 294.8 280 293.3C281 291.8 282.2 288.6 283 286.5C283.8 284.4 284.1 283.6 284.8 281C285.6 278.4 286.5 274.1 287.5 270.6C288.5 267.1 289.6 263.1 290.6 260.1C291.6 257.1 292.8 254.1 293.6 252.6C294.4 251.1 294.8 250.8 295.4 251C296 251.2 296.5 252.1 297.3 254.1C298.1 256.1 299.4 260.1 300.3 263.1C301.2 266.1 301.7 268.4 302.6 272C303.5 275.6 304.6 280.8 305.6 285C306.6 289.2 307.6 293.8 308.6 297.1C309.6 300.4 310.7 303.4 311.6 304.6C312.5 305.9 313.1 305.6 313.9 304.6C314.6 303.6 315.2 301.6 316.1 298.6C317 295.6 318.2 290.8 319.1 286.5C320 282.2 320.8 277.4 321.6 273C322.5 268.6 323.5 263.8 324.2 260.1C324.9 256.4 325.5 253 325.9 251C326.3 249 326 249.2 326.6 248C327.2 246.8 328.6 244.4 329.6 243.5C330.6 242.6 331.7 242.6 332.7 242.8C333.7 243.1 334.4 243.6 335.7 245C336.9 246.4 338.7 249 340.2 251C341.7 253 343.3 255.3 344.7 257.1C346.1 258.9 347.2 260.5 348.5 262C349.8 263.5 351.1 264.4 352.5 266.1C353.9 267.8 355.5 270.1 357 272.1C358.5 274.1 360 276.1 361.5 278.1C363 280.1 364.5 282.8 366 284.3C367.5 285.8 369.3 286.9 370.6 287.3C371.9 287.7 372.6 287.6 373.6 286.5C374.6 285.4 375.6 282.8 376.6 280.5C377.6 278.2 378.9 274.9 379.6 273C380.4 271.1 380.4 270.5 381.1 269.1C381.9 267.7 383.2 265.6 384.1 264.6C385 263.6 385.8 263.2 386.3 263.1C386.8 263 386.6 262.7 387.1 263.8C387.6 264.9 388.6 267 389.3 269.5C390.1 272 390.9 275.6 391.6 279C392.3 282.4 392.9 286.9 393.5 290C394.1 293.1 394.7 295.9 395.2 297.5C395.7 299.1 396.1 299.6 396.6 299.3C397.1 299 397.7 298.1 398.4 295.6C399.1 293.1 399.9 288.4 400.6 284.5C401.3 280.6 401.9 275.8 402.5 272C403.1 268.2 403.6 265.2 404 262C404.4 258.8 404.5 255.4 405.1 252.6C405.7 249.8 406.6 246 407.4 245C408.1 244 408.9 244.5 409.6 246.5C410.4 248.5 411.2 253.2 411.9 257.1C412.6 261 413.2 265.7 413.8 270C414.4 274.3 414.6 277.7 415.2 283C415.8 288.3 416.5 296.9 417.2 302C417.9 307.1 418.6 310.9 419.4 313.6C420.1 316.3 420.9 317.6 421.7 318.1C422.4 318.6 423.2 318 423.9 316.6C424.6 315.2 425.2 312.6 426.1 310C427 307.4 428.1 303.7 429.1 301C430.1 298.3 431.1 296.1 432.1 294C433.1 291.9 433.9 289.6 435 288.5C436.1 287.4 437.6 287.4 438.8 287.3C440.1 287.2 441.4 287.5 442.5 288C443.6 288.5 444.5 289.6 445.5 290.3C446.5 291.1 447.3 291.6 448.6 292.5C449.9 293.4 451.6 294.8 453.1 295.6C454.6 296.4 455.9 296.9 457.6 297.1C459.4 297.3 461.6 297.1 463.6 296.8C465.6 296.6 467.6 296.2 469.6 295.6C471.6 295 473.6 294.3 475.6 293.3C477.6 292.3 479.8 291.1 481.6 289.5C483.4 287.9 485 285.4 486.5 283.5C488 281.6 489.2 280 490.7 278.1C492.1 276.2 493.7 274.1 495.2 272.1C496.7 270.1 498.4 267.7 499.7 266.1C500.9 264.5 501.8 263.3 502.7 262.3C503.6 261.3 504 261.1 505.2 260.1C506.4 259.1 508.3 257.3 510.1 256.3C511.9 255.3 514.1 254.5 516.1 254.1C518.1 253.7 520.1 253.8 522.1 254.1C524.1 254.3 526.1 255 528.1 255.6C530.1 256.2 532.1 256.8 534.1 257.8C536.1 258.8 538.4 260.2 540.1 261.6C541.9 263 543.4 264.3 544.6 266.1C545.8 267.9 546.5 270.5 547.5 272.5C548.5 274.5 549.5 276.1 550.5 278C551.5 279.9 552.5 282.4 553.5 284C554.5 285.6 555.4 286.8 556.2 287.5C557 288.2 557.4 288.4 558.2 288C559 287.6 560.3 286.2 561.2 285C562.1 283.8 562.9 281.6 563.4 280.5C563.9 279.4 564.1 279 564.2 278.7"/>
<path stroke="#ff00ff" stroke-dasharray="3 2.6" d="M30.5 241.3C31.2 241.8 33.5 243.2 35 244.3C36.5 245.4 38 246.9 39.5 248C41 249.1 42.5 250.6 44 251C45.5 251.4 47.1 250.4 48.5 250.3C49.9 250.2 51 249.4 52.3 250.3C53.6 251.2 54.7 253.5 56.1 255.6C57.5 257.7 59.2 261.2 60.6 263.1C62 265 63 266.6 64.3 266.8C65.5 267.1 66.7 265.5 68.1 264.6C69.5 263.7 71.1 262.6 72.6 261.6C74.1 260.6 75.7 259.4 77.1 258.6C78.5 257.9 79.7 257 80.9 257.1C82.2 257.2 83.5 258.3 84.6 259.3C85.7 260.3 86.9 262.2 87.6 263.1C88.2 264.1 88.3 264.7 88.5 265L89.3 244C89.8 244.5 90.6 245.7 92.1 247C93.6 248.3 96.2 250.5 98.2 251.8C100.2 253.1 102.2 253.7 104.2 254.8C106.2 255.9 108.5 257.4 110.2 258.6C111.9 259.9 113.2 261.2 114.5 262.3C115.8 263.4 117.1 265.1 118 265C118.9 264.9 119.3 263.6 120 262C120.7 260.4 121.2 258.4 122 255.6C122.8 252.8 124 247.5 125 245.5C126 243.5 126.8 243.1 127.7 243.5C128.6 243.9 129.5 246 130.3 248C131.1 250 131.7 252.6 132.6 255.6C133.5 258.6 134.6 264.1 135.6 266.1C136.6 268.1 137.6 268.1 138.6 267.6C139.6 267.1 140.5 264.2 141.6 263.1C142.7 262 144.3 260.9 145.3 260.8C146.3 260.7 147.1 262.1 147.5 262.3L148.6 290C149 288.8 150.3 285.5 151 283C151.7 280.5 152.3 278 153 275C153.7 272 154.2 269.5 155.1 265C155.9 260.5 157.1 253.1 158.1 248C159.1 242.9 160.1 237.1 161.1 234.5C162.1 231.9 163.1 232.1 164.1 232.3C165.1 232.6 165.8 233.9 167.1 236C168.3 238.1 170.3 242.6 171.6 245C172.9 247.4 173.8 249.7 174.7 250.5C175.6 251.3 176.2 250.3 177 250C177.8 249.7 178.3 248.1 179.2 248.5C180.1 248.9 180.9 250.7 182.2 252.6C183.4 254.5 185.2 257.8 186.7 260.1C188.2 262.4 189.9 264.8 191.2 266.5C192.5 268.2 193.3 269.7 194.5 270.6C195.7 271.5 197.3 272.6 198.3 272C199.3 271.4 199.9 269 200.5 267C201.1 265 201.2 263.5 202 260.1C202.8 256.7 204 249 205 246.5C206 244 207.1 245.1 208 245C208.9 244.9 209.5 245.1 210.3 245.8C211.1 246.6 211.5 248.5 212.6 249.5C213.7 250.5 215.6 251 217.1 251.8C218.6 252.6 220.1 253 221.6 254.1C223.1 255.2 224.6 256.6 226.1 258.6C227.6 260.6 229.1 264 230.6 266.1C232.1 268.2 233.8 270.6 235.1 271.3C236.3 272.1 236.8 272.5 238.1 270.6C239.3 268.7 241.3 263.9 242.6 260.1C243.8 256.3 244.6 251.1 245.6 248C246.6 244.9 247.6 242.3 248.6 241.3C249.6 240.3 250.3 241.1 251.6 242C252.9 242.9 254.7 244.7 256.2 246.5C257.7 248.3 259.4 250.1 260.7 252.6C261.9 255.1 262.8 258.9 263.7 261.6C264.6 264.4 265.3 266.9 265.9 269.1C266.5 271.4 267.1 274.1 267.4 275.1L268 277.5C268.5 278.1 269.8 280.4 271 281.3C272.2 282.2 274 283.2 275.5 282.8C277 282.4 278.8 280.4 280 279C281.2 277.6 282 277.4 283 274.5C284 271.6 284.7 265.5 286 261.6C287.3 257.7 289.1 253.5 290.6 251C292.1 248.5 293.7 247.5 295.1 246.5C296.5 245.5 297.7 244.5 298.8 245C299.9 245.5 300.7 247 301.8 249.5C302.9 252 304.6 257.3 305.6 260.1C306.6 262.9 307 266 307.8 266.5C308.6 267 309.4 264.4 310.5 263C311.6 261.6 313.4 258 314.6 257.8C315.8 257.6 316.6 260.2 317.6 261.6C318.6 263 319.7 265.1 320.6 266.1C321.5 267.1 322.2 267.8 322.9 267.6C323.6 267.4 324.4 265.9 325 265C325.6 264.1 326.2 262.5 326.5 262L326.8 241C327 240.9 327.4 240.8 328.1 240.5C328.8 240.2 330.1 239.4 331.1 239C332.1 238.6 332.9 237.8 334.2 238.3C335.5 238.8 337.2 240.9 338.7 242C340.2 243.1 341.6 243.9 343.2 245C344.8 246.1 346.5 247.7 348 248.5C349.5 249.3 351.2 249.2 352.2 249.8C353.2 250.4 352.7 251 354 251.8C355.3 252.6 358 254.1 360 254.8C362 255.6 364 256.2 366 256.3C368 256.4 370.3 255.6 372.1 255.6C373.9 255.6 375.1 255.8 376.6 256.3C378.1 256.8 379.7 257.9 381.1 258.6C382.5 259.4 384 260.2 384.8 260.8C385.6 261.4 385.8 261.8 386 262L386.5 262C386.9 262.4 388 263.4 388.6 264.6C389.2 265.8 389.5 267.2 390.1 269.1C390.8 271 391.8 274.2 392.5 276C393.2 277.8 393.8 279.5 394.5 280C395.2 280.5 395.8 280.5 396.5 279C397.2 277.5 397.8 274.5 398.5 271C399.2 267.5 400.2 262.2 401 258C401.8 253.8 402.6 249.2 403.5 246C404.4 242.8 405.8 240.4 406.6 239C407.4 237.6 407.5 237 408.1 237.5C408.7 238 409.6 240 410.4 242C411.2 244 411.8 247 412.7 249.5C413.6 252 414.4 255.2 415.7 257.1C416.9 259 418.7 261.3 420.2 260.8C421.7 260.3 423.3 256.5 424.7 254C426.1 251.5 427.2 247.8 428.5 246C429.8 244.2 431.1 243.8 432.2 243C433.3 242.2 433.8 241.9 435 241.5C436.2 241.1 438.1 240.4 439.5 240.5C440.9 240.6 442.5 240.8 443.3 242C444.1 243.2 444.2 245.8 444.5 248C444.8 250.2 444.9 253.8 445 255L445.5 282C445.8 282.4 446 283.4 447 284.3C448 285.2 450.1 286.6 451.6 287.3C453.1 288.1 454.4 288.7 456.1 288.8C457.9 288.9 460.1 288.6 462.1 288C464.1 287.4 466.1 286.1 468.1 285C470.1 283.9 472.1 282.8 474.1 281.5C476.1 280.2 478.4 278.7 480.1 277.5C481.9 276.3 483.4 275.6 484.6 274.5C485.9 273.4 486.1 273.1 487.6 271C489.1 268.9 491.7 263.8 493.7 261.6C495.7 259.4 497.9 258.6 499.7 257.8C501.4 257.1 503.3 257.2 504.2 257.1C505.1 257 504.9 257 505 257L505.5 256.5C506 256.4 507.7 256.2 508.7 255.6C509.7 254.9 510.4 253.2 511.6 252.6C512.8 252 514.4 252.1 516.1 251.8C517.9 251.5 520.1 251.1 522.1 251C524.1 250.9 526.1 250.7 528.1 251C530.1 251.3 532.1 251.8 534.1 252.6C536.1 253.4 538.4 254.8 540.1 255.6C541.9 256.4 543.1 255.9 544.6 257.1C546.1 258.4 547.6 261.1 549.1 263.1C550.6 265.1 552.2 267.9 553.7 269.1C555.2 270.4 556.8 271 558.2 270.6C559.6 270.2 560.9 268.1 561.9 266.8C562.9 265.5 563.8 263.6 564.2 263"/>
<path stroke="#ff00ff" stroke-dasharray="3 2.6" d="M30.5 319.6C31.2 318.4 33.5 314.6 35 312.1C36.5 309.6 38 306.9 39.5 304.6C41 302.4 42.2 300.2 44 298.6C45.8 297 48.1 295.7 50 294.8C51.9 293.9 53.5 293.3 55.3 293.3C57.1 293.3 59 293.8 60.6 294.8C62.2 295.8 63.7 297.9 65.1 299.3C66.5 300.7 67.7 302.2 68.8 303.1C69.9 304 70.8 305.1 71.9 304.6C73 304.1 74.5 301.9 75.6 300.1C76.7 298.3 77.6 295.8 78.6 294C79.6 292.2 80.6 290 81.6 289.5C82.6 289 83.7 290 84.6 291C85.5 292 86.3 293.6 86.9 295.6C87.5 297.6 88.2 301.9 88.4 303.1L89.3 266C89.8 266.3 91 267.2 92 268C93 268.8 94 269.9 95 271C96 272.1 97.2 272.7 98.2 274.5C99.2 276.3 100.2 279.5 101.2 282C102.2 284.5 103.2 287 104.2 289.5C105.2 292 106.2 294.8 107.2 297.1C108.2 299.4 109.6 302.9 110.5 303.5C111.4 304.1 111.8 302.8 112.5 301C113.2 299.2 114 295.3 114.8 293C115.5 290.7 116.2 288.4 117 287C117.8 285.6 118.7 284.9 119.5 284.5C120.3 284.1 120.6 284.3 122 284.3C123.4 284.3 126.1 284.2 128 284.3C129.9 284.4 131.9 284.1 133.3 285C134.7 285.9 135.4 287 136.3 289.5C137.2 292 137.7 296.6 138.6 300.1C139.5 303.6 140.6 308 141.6 310.6C142.6 313.2 143.6 315.6 144.6 315.9C145.6 316.1 147.1 312.7 147.6 312.1L148.6 308C149 306.3 150.2 302.2 151 298C151.8 293.8 152.7 288 153.5 283C154.3 278 155.2 272 156 268C156.8 264 157.8 260.3 158.5 259C159.2 257.7 159.8 258.6 160.5 260C161.2 261.4 161.9 264.8 162.6 267.6C163.3 270.4 164 274.1 164.5 277C165 279.9 164.9 281.4 165.6 285C166.3 288.6 167.6 294.6 168.6 298.6C169.6 302.6 170.3 306.1 171.6 309.1C172.9 312.1 174.7 315.6 176.2 316.6C177.7 317.6 179.2 316.1 180.7 315.1C182.2 314.1 183.7 312.1 185.2 310.6C186.7 309.1 188.1 307.4 189.7 306.1C191.2 304.8 192.9 303.9 194.5 303C196.1 302.1 197.2 301.9 199 300.8C200.8 299.7 203.7 297.3 205 296.3C206.3 295.3 206.5 295.2 206.8 295L207.3 274C207.6 273.3 208.2 271 209 270C209.8 269 211 268.2 212 268C213 267.8 214 268 215 268.5C216 269 217.2 270.1 218 271C218.8 271.9 219.4 272.2 220.1 274C220.8 275.8 221.6 278.9 222.3 282C223.1 285.1 223.7 289 224.6 292.5C225.5 296 226.6 300.5 227.6 303.1C228.6 305.7 229.6 308.1 230.6 308.3C231.6 308.6 232.6 306.2 233.6 304.6C234.6 303 235.3 301.4 236.6 298.6C237.8 295.8 239.8 291.2 241.1 288C242.3 284.8 242.8 282.2 244.1 279.6C245.3 277 247.2 273.7 248.6 272.1C250 270.5 251.1 269.9 252.4 269.8C253.7 269.7 254.8 270.4 256.2 271.3C257.6 272.2 259.4 273.7 260.7 275.1C261.9 276.5 262.8 278.1 263.7 279.6C264.6 281.1 265.4 282.8 266 284C266.6 285.2 266.6 285.2 267.4 287C268.2 288.8 269.6 293.1 271 295C272.4 296.9 274 298.4 275.5 298.6C277 298.8 278.8 297.6 280 296.3C281.2 295 282.1 293.1 283 291C283.9 288.9 284.5 285.8 285.3 283.5C286.1 281.2 287.1 279.1 288 277C288.9 274.9 290.1 272.5 291 271C291.9 269.5 292.8 268.2 293.6 268C294.4 267.8 295.3 268.7 296 270C296.7 271.3 297.4 274 298 276C298.6 278 298.8 279.8 299.6 282C300.4 284.2 301.6 287 302.6 289.5C303.6 292 304.5 294.8 305.6 297.1C306.7 299.4 308.1 301.4 309.3 303.1C310.6 304.9 311.7 306.5 313.1 307.6C314.5 308.7 316.1 308.8 317.6 309.8C319.1 310.8 320.8 313.2 322.1 313.6C323.4 314 324.8 312.6 325.5 312C326.2 311.4 326.2 310.3 326.3 310L326.8 255C327 254.7 327.3 253.6 328 253C328.7 252.4 329.8 251.2 331.1 251.5C332.4 251.8 334.2 253.3 335.7 255C337.2 256.7 338.7 259.2 340.2 261.6C341.7 264 343.5 266.9 344.7 269.1C345.9 271.3 346.5 273.1 347.5 275C348.5 276.9 349.6 279.1 350.7 280.5C351.8 281.9 352.7 282.6 354 283.5C355.3 284.4 356.8 285.3 358.5 285.8C360.2 286.3 362.5 286.1 364.5 286.5C366.5 286.9 368.8 287.4 370.6 288C372.4 288.6 373.6 289.8 375.1 290.3C376.6 290.8 378.2 291.4 379.6 291C381 290.6 382.4 289.5 383.3 288C384.2 286.5 384.4 283.5 384.8 282C385.2 280.5 385.8 279.5 386 279L386.5 276C386.9 275.7 388.1 273.8 389 274C389.9 274.2 390.7 274.7 391.6 277C392.5 279.3 393.7 284.2 394.6 288C395.5 291.8 396.1 298.2 396.9 300C397.6 301.8 398.2 300.1 399.1 298.6C400 297.1 401.1 293.5 402.1 291C403.1 288.5 404.1 285.5 405.1 283.5C406.1 281.5 407.1 279.1 408.1 279C409.1 278.9 410 280 411.1 283C412.2 286 413.8 292.2 414.9 297.1C416 302 417 308.1 417.9 312.1C418.8 316.1 419.4 319 420.2 321.1C420.9 323.2 421.4 324.9 422.4 324.9C423.4 324.9 425.1 322.7 426.2 321.1C427.3 319.5 427.9 317.1 429 315.1C430.1 313.1 431.4 309.9 432.8 309.1C434.2 308.4 435.9 309.9 437.3 310.6C438.7 311.4 439.9 313.5 441 313.6C442.1 313.7 443.3 311.9 444 311.3C444.7 310.7 444.8 310.2 445 310L445.5 298.6C446.3 298.7 448.3 298.9 450.1 299.3C451.9 299.7 454.1 300.3 456.1 300.8C458.1 301.3 460.1 302.2 462.1 302.3C464.1 302.4 466.1 302.1 468.1 301.6C470.1 301.1 472.1 300.3 474.1 299.3C476.1 298.3 478.1 297.2 480.1 295.6C482.1 294.1 484.1 292.1 486.1 290C488.1 287.9 490.4 285.2 492.2 283C494 280.8 495.3 279 496.7 277C498.1 275 499.4 272.8 500.5 271C501.6 269.2 502.2 267.7 503 266C503.8 264.3 504.8 261.8 505.2 261L505.5 259C506.5 259.1 509.6 258.8 511.6 259.3C513.6 259.9 515.9 261.2 517.6 262.3C519.4 263.4 520.6 264.7 522.1 266.1C523.6 267.6 525.1 269.2 526.6 271C528.1 272.8 529.7 275.2 531.1 277C532.5 278.8 533.6 280.8 534.9 281.5C536.1 282.2 537.2 281.4 538.6 281C540 280.6 541.6 279.3 543.1 279.3C544.6 279.3 546.1 279.8 547.6 281C549.1 282.2 550.7 284.6 552.2 286.5C553.7 288.4 555.2 290.7 556.7 292.5C558.2 294.3 560.1 296 561.2 297.1C562.3 298.2 562.9 298.8 563.4 299.3C563.9 299.8 564.1 299.9 564.2 300"/>
<path stroke="#ff0000" stroke-dasharray="6 4.5" d="M30.5 267.6C31.2 268 33.2 269.2 35 269.8C36.8 270.4 39 271.2 41 271.3C43 271.4 45 271.4 47 270.6C49 269.9 51.3 267.6 53.1 266.8C54.9 266.1 56.1 265.7 57.6 266.1C59.1 266.5 60.4 268.4 62.1 269.1C63.9 269.9 66.3 270.7 68.1 270.6C69.8 270.5 71.1 269.3 72.6 268.3C74.1 267.3 75.6 265.4 77.1 264.6C78.6 263.9 80.3 263.3 81.6 263.8C82.8 264.3 83.7 266.2 84.6 267.6C85.5 269 86.2 270.7 86.9 272.1C87.6 273.5 88.2 275.4 88.5 276L89.3 247C89.8 247.3 90.9 247.3 92 249C93.1 250.7 94.7 254.2 96 257C97.3 259.8 98.7 263.2 100 266C101.3 268.8 102.7 271.3 104 274C105.3 276.7 106.8 280 108 282C109.2 284 110 285.8 111 286C112 286.2 113 284.8 114 283C115 281.2 116 278.2 117 275C118 271.8 119 267.5 120 264C121 260.5 122 256.6 123 254C124 251.4 125.1 249.5 126 248.5C126.9 247.5 127.7 247.1 128.5 248C129.3 248.9 130.1 251.2 131 254C131.9 256.8 133 261.3 134 265C135 268.7 136 272.3 137 276C138 279.7 139 283.8 140 287C141 290.2 142 293 143 295C144 297 145.1 298.2 146 299C146.9 299.8 147.9 299.8 148.3 300L150 292C150.3 290 151.2 284.3 152 280C152.8 275.7 153.7 270.7 154.5 266C155.3 261.3 156.2 256 157 252C157.8 248 158.7 244.2 159.5 242C160.3 239.8 161.1 238.7 161.9 238.5C162.7 238.3 163.6 239.6 164.5 241C165.4 242.4 166.6 245.1 167.5 247C168.4 248.9 168.9 250.2 170.1 252.6C171.3 255 173.2 258.9 174.7 261.6C176.2 264.4 177.7 266.9 179.2 269.1C180.7 271.4 182.2 273.2 183.7 275.1C185.2 277 186.8 279.3 188.2 280.5C189.6 281.7 190.8 282.4 192 282.5C193.2 282.6 194.4 282.1 195.5 281C196.6 279.9 197.5 278.2 198.5 276C199.5 273.8 200.5 270.8 201.5 268C202.5 265.2 203.5 262 204.5 259C205.5 256 207 251.5 207.5 250L209.5 246C209.9 246.2 211.1 246 212 247C212.9 248 214 249.7 215 252C216 254.3 217 257.8 218 261C219 264.2 220 267.8 221 271C222 274.2 223 277.3 224 280C225 282.7 226 285 227 287C228 289 229 291 230 292C231 293 232 293.7 233 293C234 292.3 235.1 290.2 236 288C236.9 285.8 237.7 282.8 238.5 280C239.3 277.2 240.1 274.5 241 271C241.9 267.5 243 262.7 244 259C245 255.3 246.1 251.5 247 249C247.9 246.5 248.7 244.8 249.5 244C250.3 243.2 251.1 243.2 252 244C252.9 244.8 253.9 246.7 255 248.5C256.1 250.3 257.3 252.8 258.5 255C259.7 257.2 260.9 259.5 262 262C263.1 264.5 264.2 267.7 265 270C265.8 272.3 266.7 275 267 276L268.5 283C269 283.9 270.4 287 271.5 288.5C272.6 290 273.9 291.3 275 292C276.1 292.7 277 292.8 278 292.5C279 292.2 280 291.8 281 290C282 288.2 283 285 284 282C285 279 286 275.5 287 272C288 268.5 289 264.3 290 261C291 257.7 292.1 254.1 293 252C293.9 249.9 294.7 248.7 295.5 248.5C296.3 248.3 297.1 249.2 298 251C298.9 252.8 299.9 255.7 301 259C302.1 262.3 303.5 267.4 304.5 271C305.5 274.6 305.9 277.4 307.1 280.5C308.3 283.6 310.4 287.5 311.6 289.5C312.9 291.5 313.6 292.5 314.6 292.5C315.6 292.5 316.6 291.2 317.6 289.5C318.6 287.8 319.6 284.6 320.6 282C321.6 279.4 322.7 277.3 323.6 274C324.5 270.7 325.2 266 325.8 262C326.4 258 327.2 252 327.5 250L328.1 242C328.6 241.6 329.8 240.1 331.1 239.8C332.4 239.6 334.2 239.9 335.7 240.5C337.2 241.1 338.7 242.2 340.2 243.5C341.7 244.8 343.2 246.6 344.7 248C346.2 249.4 347.6 250.5 349.2 251.8C350.8 253.1 352.2 254.7 354 255.6C355.8 256.5 358 256.6 360 257.1C362 257.6 364 258.5 366 258.6C368 258.7 370.1 257.6 372.1 257.8C374.1 258.1 376.4 259.1 378.1 260.1C379.9 261.1 381.4 262.7 382.6 263.8C383.8 264.9 385 266.5 385.5 267L386.5 263C386.8 263.7 387.8 265.3 388.5 267C389.2 268.7 390.2 270.5 391 273C391.8 275.5 392.7 279.3 393.5 282C394.3 284.7 395.2 288 396 289C396.8 290 397.8 289.5 398.5 288C399.2 286.5 399.8 283.3 400.5 280C401.2 276.7 401.8 272.5 402.5 268C403.2 263.5 404.2 257.2 405 253C405.8 248.8 406.8 244.7 407.5 243C408.2 241.3 408.8 241.8 409.5 243C410.2 244.2 410.8 246.8 411.5 250C412.2 253.2 412.7 256.7 413.5 262C414.3 267.3 415.4 276.7 416.4 282C417.4 287.3 418.5 290.9 419.4 294C420.3 297.1 420.8 299.9 421.7 300.8C422.6 301.7 423.7 301.4 424.7 299.3C425.7 297.2 426.7 291.9 427.7 288C428.7 284.1 429.7 279.7 430.5 276C431.3 272.3 431.8 268.8 432.5 266C433.2 263.2 434.2 260.7 435 259C435.8 257.3 436.3 256.1 437.3 255.6C438.3 255.2 440 256.1 441 256.3C442 256.6 442.7 256.2 443.3 257.1C443.9 258.1 444.6 261.2 444.8 262L445.5 288C446.1 288.5 447.7 290.1 449 291C450.3 291.9 451.2 292.8 453.1 293.3C455 293.8 458.1 293.9 460.6 294C463.1 294.1 465.6 294.5 468.1 294C470.6 293.5 473.1 292.5 475.6 291C478.1 289.5 480.8 287 483.1 285C485.4 283 487.4 281.2 489.2 279C491 276.8 492.4 274.2 494 272C495.6 269.8 497.2 267.3 498.5 265.5C499.8 263.7 500.9 262.3 502 261C503.1 259.7 504.7 258.1 505.2 257.5L507 256C507.5 255.7 508.6 254.7 510.1 254.1C511.6 253.5 514.1 252.8 516.1 252.6C518.1 252.3 519.9 252.5 522.1 252.6C524.4 252.7 527.4 252.9 529.6 253.3C531.9 253.7 533.6 253.9 535.6 255C537.6 256.1 539.9 258.2 541.6 260.1C543.4 262 544.6 263.9 546.1 266.1C547.6 268.4 549.4 271.1 550.7 273.6C552 276.1 553 279 554 281C555 283 555.7 284.7 556.5 285.5C557.3 286.3 558.2 286.4 559 286C559.8 285.6 560.8 284 561.5 283C562.2 282 563 280.7 563.5 280C564 279.3 564.1 279.2 564.2 279"/>
<path stroke="#ff0000" stroke-dasharray="6 4.5" d="M30.5 293.3C31.2 292.9 33.2 292 35 291C36.8 290 39 288.6 41 287.3C43 286.1 45 284.6 47 283.5C49 282.4 51.3 281.2 53.1 280.5C54.9 279.8 56.1 278.5 57.6 279C59.1 279.5 60.6 282 62.1 283.5C63.6 285 65.3 287 66.6 288C67.8 289 68.3 290 69.6 289.5C70.8 289 72.6 286.8 74.1 285C75.6 283.2 77.2 280.5 78.6 279C80 277.5 81.3 276 82.4 276C83.5 276 84.5 277.5 85.4 279C86.3 280.5 87.1 283.5 87.6 285C88.1 286.5 88.3 287.5 88.5 288L89.3 253C89.8 253.8 90.9 255.8 92 258C93.1 260.2 94.5 263 96 266C97.5 269 99.6 272.3 101.2 276C102.8 279.7 104.5 284.7 105.7 288C107 291.3 107.7 293.7 108.7 295.6C109.7 297.5 110.7 299.2 111.7 299.3C112.7 299.4 113.6 298.1 114.5 296C115.4 293.9 116.2 290.3 117 287C117.8 283.7 118.7 279.5 119.5 276C120.3 272.5 121.1 268.8 122 266C122.9 263.2 124.1 260.9 125 259.5C125.9 258.1 126.8 257.4 127.5 257.5C128.2 257.6 128.5 258.4 129.5 260.1C130.5 261.8 132.2 264.6 133.3 267.6C134.4 270.6 135.4 273.9 136.3 278C137.2 282.1 137.8 287.9 138.6 292C139.3 296.1 140.1 299.6 140.8 302.5C141.6 305.4 142.2 307.7 143.1 309.1C144 310.5 145.1 310.9 146 311C146.9 311.1 147.9 310.2 148.3 310L150 305C150.3 303.5 151.2 299.7 152 296C152.8 292.3 153.7 287.7 154.5 283C155.3 278.3 156.2 272.5 157 268C157.8 263.5 158.8 259.2 159.5 256C160.2 252.8 161 250.3 161.5 249C162 247.7 161.9 246.7 162.6 248C163.3 249.3 164.6 254.1 165.6 257.1C166.6 260.1 167.3 263 168.6 266.1C169.8 269.2 171.3 272.6 173.1 275.5C174.9 278.4 177.2 281.2 179.2 283.5C181.2 285.8 183.2 288 185.2 289.5C187.2 291 189.6 292 191.2 292.5C192.8 293 193.8 293.2 195 292.5C196.2 291.8 197.4 289.9 198.5 288C199.6 286.1 200.5 283.8 201.5 281C202.5 278.2 203.5 274.5 204.5 271C205.5 267.5 207 261.8 207.5 260L209.5 252C209.9 252.2 211.1 252 212 253C212.9 254 214 255.5 215 258C216 260.5 217 264.5 218 268C219 271.5 219.9 275.4 221 279C222.1 282.6 223.5 286.2 224.6 289.5C225.7 292.8 226.6 296.5 227.6 298.6C228.6 300.7 229.6 301.8 230.6 302.3C231.6 302.8 232.7 302.5 233.6 301.6C234.5 300.7 235.2 299.1 236 297C236.8 294.9 237.7 292.2 238.5 289C239.3 285.8 240.1 282.2 241 278C241.9 273.8 243 268.2 244 264C245 259.8 246 255.6 247 253C248 250.4 249 249 250 248.5C251 248 251.9 248.6 253 250C254.1 251.4 255.3 254.5 256.5 257C257.7 259.5 258.9 262.3 260 265C261.1 267.7 262.1 270.5 263 273C263.9 275.5 264.8 278.2 265.5 280C266.2 281.8 266.8 283.3 267 284L268.5 290C269 291 270.4 294.4 271.5 296C272.6 297.6 273.9 298.9 275 299.5C276.1 300.1 277 300 278 299.5C279 299 280 298.2 281 296.5C282 294.8 283 291.9 284 289C285 286.1 286 282.5 287 279C288 275.5 289 271.5 290 268C291 264.5 292 260.4 293 258C294 255.6 295 253.5 296 253.5C297 253.5 298 255.5 299 258C300 260.5 301 264.7 302 268.5C303 272.3 303.9 277 305 281C306.1 285 307.2 288.6 308.6 292.5C310 296.4 311.9 302.6 313.1 304.6C314.4 306.6 315.1 305.6 316.1 304.6C317.1 303.6 318.1 301.4 319.1 298.6C320.1 295.8 321.2 291.4 322.1 288C323 284.6 323.6 281.7 324.2 278C324.8 274.3 325.2 270 325.8 266C326.4 262 327.2 256 327.5 254L329.6 244.3C330.4 244.4 332.7 244.2 334.2 245C335.7 245.8 337.2 247.4 338.7 248.8C340.2 250.2 341.7 251.8 343.2 253.3C344.7 254.8 346.1 256.1 347.7 257.8C349.2 259.5 350.7 262.2 352.5 263.5C354.3 264.8 356.5 265 358.5 265.3C360.5 265.6 362.5 265.1 364.5 265.3C366.5 265.6 368.6 265.9 370.6 266.8C372.6 267.7 374.8 269.1 376.6 270.6C378.4 272.1 380.1 274.1 381.5 276C382.9 277.9 384.2 281 384.8 282L386.3 270C386.7 270.7 387.7 272.2 388.5 274C389.3 275.8 390.2 278.2 391 281C391.8 283.8 392.7 288.1 393.5 291C394.3 293.9 395.2 297.3 396 298.5C396.8 299.7 397.8 299.4 398.5 298C399.2 296.6 399.8 293.3 400.5 290C401.2 286.7 401.8 282.7 402.5 278C403.2 273.3 404.2 266.7 405 262C405.8 257.3 406.8 252.1 407.5 250C408.2 247.9 408.8 248.5 409.5 249.5C410.2 250.5 410.8 252.6 411.5 256C412.2 259.4 412.8 265.3 413.5 270C414.2 274.7 414.8 279.5 415.5 284C416.2 288.5 416.8 293.2 417.5 297C418.2 300.8 418.8 304.3 419.5 307C420.2 309.7 420.8 311.8 421.5 313C422.2 314.2 422.8 314.5 423.5 314C424.2 313.5 424.8 312 425.5 310C426.2 308 426.8 305.2 427.5 302C428.2 298.8 428.8 294.7 429.5 291C430.2 287.3 430.8 283.3 431.5 280C432.2 276.7 432.8 273.7 433.5 271C434.2 268.3 435.1 265.7 436 264C436.9 262.3 438 261.2 439 261C440 260.8 441.1 261.8 442 263C442.9 264.2 444 266 444.5 268C445 270 445.1 273.8 445.2 275L446 294C446.7 294.4 448.4 295.5 450.1 296.3C451.8 297.1 453.9 298 456.1 298.6C458.4 299.2 461.1 300.1 463.6 300.1C466.1 300.1 468.6 299.4 471.1 298.6C473.6 297.9 476.1 297.1 478.6 295.6C481.1 294.1 483.8 291.8 486.1 289.5C488.4 287.2 490.5 284.4 492.2 282C493.9 279.6 495.1 277.3 496.5 275C497.9 272.7 499.3 269.9 500.5 268C501.7 266.1 502.7 264.6 503.5 263.5C504.3 262.4 504.9 261.8 505.2 261.5L507 260C507.8 259.8 510 259.1 512 258.5C514 257.9 516.7 256.5 519.1 256.5C521.5 256.5 524.4 257.8 526.6 258.6C528.9 259.5 530.6 260.6 532.6 261.6C534.6 262.6 536.9 263.6 538.6 264.6C540.4 265.6 541.7 266.3 543.1 267.5C544.5 268.7 545.9 270.4 547 272C548.1 273.6 549 275.2 550 277C551 278.8 552.1 280.7 553 282.5C553.9 284.3 554.7 286.5 555.5 288C556.3 289.5 557.2 291.2 558 291.5C558.8 291.8 559.8 290.9 560.5 290C561.2 289.1 561.9 287.5 562.5 286C563.1 284.5 563.9 281.8 564.2 281"/>
<path stroke="#ff0000" d="M30.5 279.7C31.5 279.5 34.5 279 36.5 278.5C38.5 278 40.5 277.2 42.5 276.5C44.5 275.8 46.5 275.2 48.5 274.5C50.5 273.8 52.8 272.7 54.6 272.5C56.4 272.3 57.6 272.8 59.1 273.5C60.6 274.2 62.1 275.9 63.6 277C65.1 278.1 66.6 279.7 68.1 280C69.6 280.3 71.1 279.8 72.6 279C74.1 278.2 75.7 276.4 77.1 275C78.5 273.6 79.8 271.2 80.9 270.5C82 269.8 83 270.2 83.9 271C84.8 271.8 85.4 273.6 86.1 275.1C86.8 276.6 87.4 279 87.8 280C88.2 281 88.5 280.8 88.6 281L89.3 249.5C89.8 250 90.9 250.3 92.1 252.6C93.3 254.9 95.4 260 96.7 263.1C98 266.2 98.7 268.4 99.7 271C100.7 273.6 101.7 276.7 102.7 279C103.7 281.3 104.7 283.2 105.7 285C106.7 286.8 107.7 288.8 108.7 290C109.7 291.2 110.6 292.2 111.5 292C112.4 291.8 113.2 290.5 114 289C114.8 287.5 115.7 285.2 116.5 283C117.3 280.8 118.1 278.8 119 275.5C119.9 272.2 121 266.6 122 263.1C123 259.7 124.1 256.6 125 254.8C125.9 253.1 126.5 252.6 127.3 252.6C128.1 252.6 128.6 252.8 129.5 254.8C130.4 256.8 131.6 261.2 132.6 264.6C133.6 268 134.7 272.1 135.6 275.1C136.5 278.1 137.1 279.6 137.8 282.5C138.6 285.4 139.2 289.6 140.1 292.5C141 295.4 142.1 298.3 143.1 300.1C144.1 301.9 145.2 302.6 146.1 303.1C147 303.6 147.9 303.1 148.3 303.1L150.6 295.6C151 293.3 152.3 285.8 152.9 282C153.5 278.2 153.9 275.4 154.4 273C154.9 270.6 155.3 271 155.9 267.6C156.5 264.2 157.3 256.7 158.1 252.6C158.8 248.5 159.8 244.7 160.4 242.8C161 240.9 161.3 241.1 161.9 241.3C162.5 241.6 163.2 242.7 164.1 244.3C165 245.9 166.1 248.6 167.1 251C168.1 253.4 169.1 256.1 170.1 258.6C171.1 261.1 172.1 263.9 173.1 266.1C174.1 268.4 174.9 269.9 176.2 272.1C177.5 274.3 179.1 277.4 180.7 279.5C182.2 281.6 183.8 283.1 185.5 284.5C187.2 285.9 189.6 287.4 191 288C192.4 288.6 193.1 288.4 194 288C194.9 287.6 195.7 286.8 196.5 285.5C197.3 284.2 198.1 282.4 199 280C199.9 277.6 201 274.3 202 271C203 267.7 204.1 263.2 205 260.1C205.9 257 206.7 254.4 207.3 252.6C207.9 250.8 208.6 250 208.8 249.5L209.5 248.8C209.9 248.9 211 248.6 211.8 249.5C212.6 250.4 213.2 251.8 214.1 254.1C215 256.4 216.1 259.9 217.1 263.1C218.1 266.3 219.3 270.1 220.3 273.3C221.3 276.5 222.2 279.3 223.3 282.5C224.4 285.7 225.8 289.7 226.8 292.5C227.8 295.3 228.5 297.9 229.4 299.3C230.3 300.7 231.3 301.1 232.1 300.8C232.9 300.6 233.5 299.9 234.4 297.8C235.3 295.7 236.5 290.9 237.4 288C238.3 285.1 238.8 283.3 239.6 280.5C240.4 277.7 241 275.1 242 271C243 266.9 244.5 259.6 245.6 255.6C246.7 251.7 247.7 248.9 248.6 247.3C249.5 245.7 250 245.6 250.9 245.8C251.8 246.1 252.8 247.1 253.9 248.8C255 250.6 256.4 253.7 257.7 256.3C258.9 258.9 260.3 261.7 261.4 264.6C262.5 267.5 263.5 271.1 264.4 273.6C265.3 276.1 266.3 278.6 266.7 279.6L268 286.5C268.5 287.5 269.9 290.9 271 292.5C272.1 294.1 273.7 295.7 274.8 296.3C275.9 296.9 276.8 296.8 277.8 296.3C278.8 295.8 279.8 295.2 280.8 293.3C281.8 291.4 282.9 287.9 283.8 285C284.7 282.1 285.2 278.8 286 276C286.8 273.2 287.4 271.3 288.3 268.5C289.2 265.7 290.3 262.1 291.3 259.3C292.3 256.5 293.5 253.2 294.3 251.8C295.1 250.4 295.6 250.4 296.3 251C297.1 251.6 297.9 253.1 298.8 255.6C299.7 258.1 300.9 262.5 301.8 266.1C302.7 269.7 303.4 273.4 304.3 277C305.2 280.6 306.1 284.6 307.1 288C308.1 291.4 309.1 295 310.1 297.1C311.1 299.2 312.1 300.3 313.1 300.8C314.1 301.3 315.1 301.5 316.1 300.1C317.1 298.7 318.1 295.5 319.1 292.5C320.1 289.5 321.4 285.4 322.1 282C322.9 278.6 323.1 275.3 323.6 272C324.1 268.7 324.6 265.3 325.1 262C325.6 258.7 326 255.1 326.5 252C327 248.9 327.8 244.9 328.1 243.5L331.1 241.3C331.6 241.4 332.9 241.1 334.2 242C335.5 242.9 337.2 245 338.7 246.5C340.2 248 341.6 249.7 343.2 251C344.8 252.3 346.2 253.4 348 254.5C349.8 255.6 352 256.9 354 257.8C356 258.7 358 259.6 360 260.1C362 260.6 364 260.4 366 260.8C368 261.2 370.3 261.6 372.1 262.3C373.9 263.1 375.1 264.1 376.6 265.3C378.1 266.6 379.7 268.3 381.1 269.8C382.5 271.3 384 273.4 384.8 274.4C385.6 275.4 385.8 275.7 386 276L386.3 266.1C386.6 266.6 387.2 267.6 387.8 269.1C388.4 270.6 389.3 272.6 390.1 275.1C390.9 277.6 391.5 280.9 392.4 284C393.3 287.1 394.6 291.8 395.4 294C396.1 296.2 396.3 297.4 396.9 297.1C397.5 296.9 398.4 295 399.1 292.5C399.9 290 400.7 285.8 401.4 282C402.1 278.2 402.4 274.9 403.2 270C403.9 265.1 405.1 256.8 405.9 252.6C406.7 248.4 407.2 246 407.8 245C408.4 244 408.9 244.7 409.6 246.5C410.3 248.3 411.1 251.5 411.9 255.6C412.7 259.7 413.4 265.9 414.2 271C414.9 276.1 415.6 281.4 416.4 286C417.1 290.6 417.9 295 418.7 298.6C419.4 302.2 420.3 305.4 420.9 307.6C421.5 309.9 421.8 311.6 422.4 312.1C423 312.6 424 312 424.7 310.6C425.4 309.2 425.9 306.6 426.5 304C427.1 301.4 427.8 298 428.5 295C429.2 292 429.8 288.7 430.5 286C431.2 283.3 431.8 281.3 432.5 279C433.2 276.7 433.9 273.9 435 272C436.1 270.1 437.7 268.2 438.8 267.6C439.9 267 440.9 267.6 441.8 268.3C442.7 269.1 443.5 270.2 444 272.1C444.5 274 444.6 277.6 444.8 279.6C445 281.6 445.1 283.3 445.2 284L447 292.5C447.8 293 450.1 294.8 451.6 295.6C453.1 296.4 454.4 296.8 456.1 297.1C457.9 297.4 460.1 297.4 462.1 297.4C464.1 297.4 466.1 297.4 468.1 297.1C470.1 296.8 472.1 296.4 474.1 295.6C476.1 294.8 478.1 293.9 480.1 292.5C482.1 291.1 484.3 289.4 486.1 287.5C487.9 285.6 489.1 283.4 490.7 281C492.3 278.6 494.3 275.5 495.9 273C497.4 270.5 498.8 267.8 500 266C501.2 264.2 502.1 263 503 262C503.9 261 504.8 260.3 505.2 260L507 258.6C508 258 511.1 255.6 513.1 254.8C515.1 254 517.1 253.9 519.1 253.8C521.1 253.7 523.1 253.8 525.1 254.1C527.1 254.4 529.1 254.8 531.1 255.6C533.1 256.4 535.1 257.2 537.1 258.6C539.1 260 541.4 262.1 543.1 263.8C544.9 265.6 546.4 267.4 547.6 269.1C548.8 270.8 549.5 271.9 550.5 274C551.5 276.1 552.7 279.3 553.7 281.5C554.7 283.7 555.8 285.7 556.7 287C557.6 288.3 558.1 289.1 558.9 289.2C559.6 289.2 560.6 288.2 561.2 287.3C561.8 286.4 562.2 284.9 562.7 283.5C563.2 282.1 564 279.8 564.2 279"/>
<path stroke="#ff00ff" stroke-dasharray="3 2.6" d="M88.5 265L89.3 244M147.5 262.3L148.6 290M267.4 275.1L268 277.5M326.5 262L326.8 241M386 262L386.5 262M445 255L445.5 282M505 257L505.5 256.5"/>
<path stroke="#ff00ff" stroke-dasharray="3 2.6" d="M88.4 303.1L89.3 266M147.6 312.1L148.6 308M206.8 295L207.3 274M326.3 310L326.8 255M386 279L386.5 276M445 310L445.5 298.6M505.2 261L505.5 259"/>
</g>
<g fill="none" stroke="#000" stroke-width="2"><ellipse cx="89.1" cy="245.3" rx="2.85" ry="2.2"/><ellipse cx="148.6" cy="303.8" rx="2.85" ry="2.2"/><ellipse cx="207.7" cy="254.1" rx="2.85" ry="2.2"/><ellipse cx="267" cy="281.4" rx="2.85" ry="2.2"/><ellipse cx="326.6" cy="248" rx="2.85" ry="2.2"/><ellipse cx="386.3" cy="263.1" rx="2.85" ry="2.2"/><ellipse cx="445.5" cy="290.3" rx="2.85" ry="2.2"/><ellipse cx="505.2" cy="260.1" rx="2.85" ry="2.2"/><ellipse cx="564.2" cy="278.5" rx="2.85" ry="2.2"/></g>
<path fill="none" stroke="#7c7c7c" stroke-width="1.25" d="M29.5 232.8H564.5V323.8H29.5Z"/>
<path fill="none" stroke="#808080" stroke-width="1.5" d="M29.3 323.8v-4.6M29.3 232.8v4.6M88.7 323.8v-4.6M88.7 232.8v4.6M148.2 323.8v-4.6M148.2 232.8v4.6M207.6 323.8v-4.6M207.6 232.8v4.6M267.1 323.8v-4.6M267.1 232.8v4.6M326.5 323.8v-4.6M326.5 232.8v4.6M386 323.8v-4.6M386 232.8v4.6M445.4 323.8v-4.6M445.4 232.8v4.6M504.9 323.8v-4.6M504.9 232.8v4.6M564.3 323.8v-4.6M564.3 232.8v4.6M29.5 238.8h4.8M564.5 238.8h-4.8M29.5 259.6h4.8M564.5 259.6h-4.8M29.5 280.2h4.8M564.5 280.2h-4.8M29.5 300.8h4.8M564.5 300.8h-4.8M29.5 321.5h4.8M564.5 321.5h-4.8"/>
<g font-family="Liberation Sans, Arial, sans-serif" font-size="9.8" fill="#1a1a1a" stroke="#1a1a1a" stroke-width="0.25" text-anchor="end"><text transform="translate(27.3 242.8) scale(1.16 1)">2</text><text transform="translate(27.3 263.6) scale(1.16 1)">1</text><text transform="translate(27.3 284.2) scale(1.16 1)">0</text><text transform="translate(27.3 304.8) scale(1.16 1)">−1</text><text transform="translate(27.3 325.5) scale(1.16 1)">−2</text></g>
<text transform="translate(11 279.5) scale(1.2 1) rotate(-90)" font-family="Liberation Serif, serif" font-style="italic" font-size="13" fill="#1a1a1a" stroke="#1a1a1a" stroke-width="0.3" text-anchor="middle">z</text>
<g font-family="Liberation Sans, Arial, sans-serif" font-size="9.8" fill="#1a1a1a" stroke="#1a1a1a" stroke-width="0.25" text-anchor="middle"><text transform="translate(29.5 335) scale(1.16 1)">0</text><text transform="translate(88.9 335) scale(1.16 1)">10</text><text transform="translate(148.4 335) scale(1.16 1)">20</text><text transform="translate(207.8 335) scale(1.16 1)">30</text><text transform="translate(267.3 335) scale(1.16 1)">40</text><text transform="translate(326.7 335) scale(1.16 1)">50</text><text transform="translate(386.2 335) scale(1.16 1)">60</text><text transform="translate(445.6 335) scale(1.16 1)">70</text><text transform="translate(505.1 335) scale(1.16 1)">80</text><text transform="translate(564.5 335) scale(1.16 1)">90</text></g>
<text transform="translate(297.1 349.4) scale(1.23 1)" font-family="Liberation Sans, Arial, sans-serif" font-size="11.4" fill="#1a1a1a" stroke="#1a1a1a" stroke-width="0.2" text-anchor="middle">time (days)</text>
<g><rect x="104.9" y="2.4" width="372" height="20.7" fill="#fff" stroke="#555" stroke-width="1.1"/><path d="M110 11.4H139.5" stroke="#0000ff" stroke-width="1.3"/><path d="M176.7 11.4H205" stroke="#ff00ff" stroke-width="1.3" stroke-dasharray="3.2 2.5"/><path d="M288.1 11.4H317" stroke="#ff0000" stroke-width="1.3" stroke-dasharray="6.3 5.3"/><path d="M404 11.4H433" stroke="#ff0000" stroke-width="1.3"/><g font-family="Liberation Serif, serif" fill="#262626"><text x="142.3" y="15" font-size="10.4" textLength="25.6" lengthAdjust="spacingAndGlyphs">truth</text><text x="208.2" y="14" font-style="italic" font-size="10.4" textLength="5.3" lengthAdjust="spacingAndGlyphs">p</text><text x="213.5" y="15.6" font-size="6.6" textLength="3.8" lengthAdjust="spacingAndGlyphs">5</text><text x="219.7" y="14" font-size="10.6" textLength="2.9" lengthAdjust="spacingAndGlyphs">(</text><text x="222.6" y="14" font-weight="bold" font-size="9.9" textLength="9.8" lengthAdjust="spacingAndGlyphs">X</text><text x="233.1" y="14" font-size="10.6" textLength="2.8" lengthAdjust="spacingAndGlyphs">)</text><text x="239" y="14" font-size="10.6" textLength="2.1" lengthAdjust="spacingAndGlyphs">,</text><text x="244.7" y="14" font-style="italic" font-size="10.4" textLength="6.1" lengthAdjust="spacingAndGlyphs">p</text><text x="250.5" y="15.6" font-size="6.6" textLength="9.5" lengthAdjust="spacingAndGlyphs">95</text><text x="260.4" y="14" font-size="10.6" textLength="3" lengthAdjust="spacingAndGlyphs">(</text><text x="263.4" y="14" font-weight="bold" font-size="9.9" textLength="11.5" lengthAdjust="spacingAndGlyphs">X</text><text x="275.4" y="14" font-size="10.6" textLength="3" lengthAdjust="spacingAndGlyphs">)</text><text x="319.4" y="14" font-style="italic" font-size="10.4" textLength="6.5" lengthAdjust="spacingAndGlyphs">p</text><text x="325.6" y="15.6" font-size="6.6" textLength="9.5" lengthAdjust="spacingAndGlyphs">25</text><text x="336" y="14" font-size="10.6" textLength="3" lengthAdjust="spacingAndGlyphs">(</text><text x="339.1" y="14" font-weight="bold" font-size="9.9" textLength="11" lengthAdjust="spacingAndGlyphs">X</text><text x="350.6" y="14" font-size="10.6" textLength="3.4" lengthAdjust="spacingAndGlyphs">)</text><text x="354.6" y="14" font-size="10.6" textLength="1.9" lengthAdjust="spacingAndGlyphs">,</text><text x="360.5" y="14" font-style="italic" font-size="10.4" textLength="6.1" lengthAdjust="spacingAndGlyphs">p</text><text x="366.3" y="15.6" font-size="6.6" textLength="9.9" lengthAdjust="spacingAndGlyphs">75</text><text x="376.3" y="14" font-size="10.6" textLength="3" lengthAdjust="spacingAndGlyphs">(</text><text x="379.4" y="14" font-weight="bold" font-size="9.9" textLength="10.7" lengthAdjust="spacingAndGlyphs">X</text><text x="390.9" y="14" font-size="10.6" textLength="3" lengthAdjust="spacingAndGlyphs">)</text><text x="435.4" y="14" font-style="italic" font-size="10.4" textLength="6.4" lengthAdjust="spacingAndGlyphs">p</text><text x="441.4" y="15.6" font-size="6.6" textLength="9.7" lengthAdjust="spacingAndGlyphs">50</text><text x="451.9" y="14" font-size="10.6" textLength="3" lengthAdjust="spacingAndGlyphs">(</text><text x="455.8" y="14" font-weight="bold" font-size="9.9" textLength="9.9" lengthAdjust="spacingAndGlyphs">X</text><text x="466.1" y="14" font-size="10.6" textLength="3" lengthAdjust="spacingAndGlyphs">)</text></g></g>
</svg>
</body></html>
